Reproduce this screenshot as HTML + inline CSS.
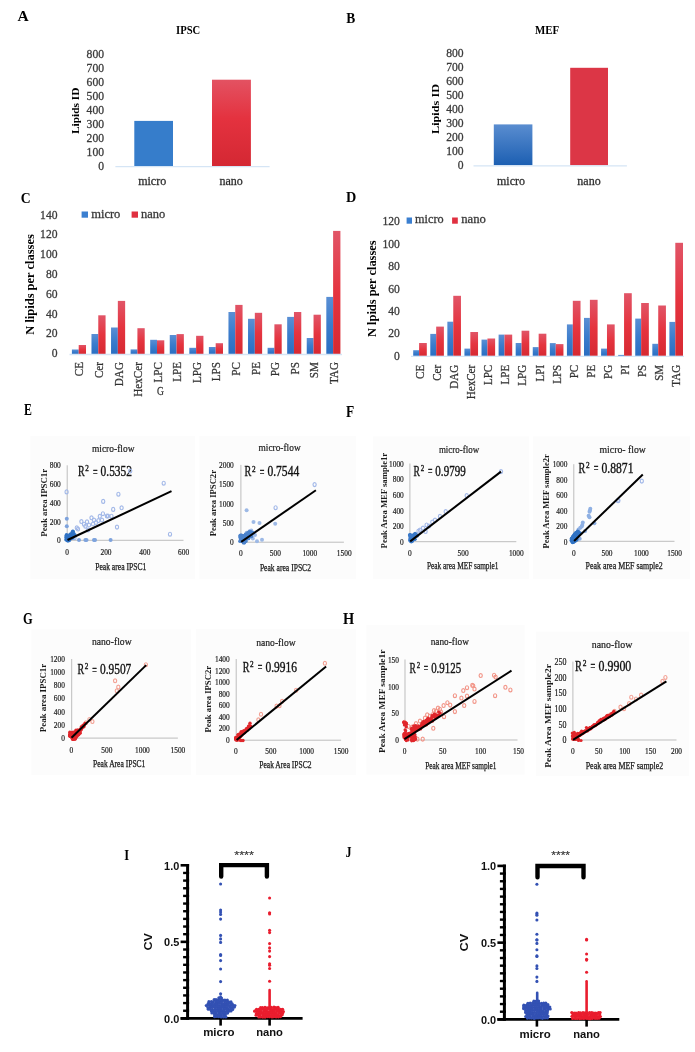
<!DOCTYPE html>
<html><head><meta charset="utf-8"><title>Figure</title>
<style>
html,body{margin:0;padding:0;background:#fff;}
body{width:695px;height:1052px;overflow:hidden;}
svg{display:block;}
</style></head>
<body>
<svg width="695" height="1052" viewBox="0 0 695 1052">
<rect x="0" y="0" width="695" height="1052" fill="#fff"/>
<text x="17.40" y="20.70" font-size="15.5" font-weight="bold" font-family="'Liberation Serif', serif" fill="#000" textLength="11.20" lengthAdjust="spacingAndGlyphs">A</text>
<text x="346.30" y="22.50" font-size="15" font-weight="bold" font-family="'Liberation Serif', serif" fill="#000" textLength="9.00" lengthAdjust="spacingAndGlyphs">B</text>
<text x="20.70" y="202.90" font-size="15.5" font-weight="bold" font-family="'Liberation Serif', serif" fill="#000" textLength="9.90" lengthAdjust="spacingAndGlyphs">C</text>
<text x="346.00" y="202.30" font-size="15" font-weight="bold" font-family="'Liberation Serif', serif" fill="#000" textLength="10.30" lengthAdjust="spacingAndGlyphs">D</text>
<defs>
<linearGradient id="gRedA" x1="0" y1="0" x2="0" y2="1"><stop offset="0" stop-color="#e35262"/><stop offset="0.45" stop-color="#e4323f"/><stop offset="1" stop-color="#d42833"/></linearGradient>
<linearGradient id="gBlueB" x1="0" y1="0" x2="0" y2="1"><stop offset="0" stop-color="#5a8dd0"/><stop offset="1" stop-color="#1c5fb2"/></linearGradient>
<linearGradient id="gBlueC" x1="0" y1="0" x2="0" y2="1"><stop offset="0" stop-color="#5a8fd4"/><stop offset="0.5" stop-color="#3a7ccc"/><stop offset="1" stop-color="#2a6ec2"/></linearGradient>
<linearGradient id="gRedC" x1="0" y1="0" x2="0" y2="1"><stop offset="0" stop-color="#e15567"/><stop offset="0.5" stop-color="#e5343f"/><stop offset="1" stop-color="#d62932"/></linearGradient>
</defs>
<text x="176.10" y="33.80" font-size="11.5" font-weight="bold" font-family="'Liberation Serif', serif" fill="#000" textLength="24.20" lengthAdjust="spacingAndGlyphs">IPSC</text>
<text x="104.00" y="169.70" text-anchor="end" font-size="11.6" font-weight="normal" font-family="'Liberation Serif', serif" fill="#3a3a3a" stroke="#3a3a3a" stroke-width="0.28">0</text>
<text x="104.00" y="155.76" text-anchor="end" font-size="11.6" font-weight="normal" font-family="'Liberation Serif', serif" fill="#3a3a3a" stroke="#3a3a3a" stroke-width="0.28">100</text>
<text x="104.00" y="141.82" text-anchor="end" font-size="11.6" font-weight="normal" font-family="'Liberation Serif', serif" fill="#3a3a3a" stroke="#3a3a3a" stroke-width="0.28">200</text>
<text x="104.00" y="127.88" text-anchor="end" font-size="11.6" font-weight="normal" font-family="'Liberation Serif', serif" fill="#3a3a3a" stroke="#3a3a3a" stroke-width="0.28">300</text>
<text x="104.00" y="113.94" text-anchor="end" font-size="11.6" font-weight="normal" font-family="'Liberation Serif', serif" fill="#3a3a3a" stroke="#3a3a3a" stroke-width="0.28">400</text>
<text x="104.00" y="100.00" text-anchor="end" font-size="11.6" font-weight="normal" font-family="'Liberation Serif', serif" fill="#3a3a3a" stroke="#3a3a3a" stroke-width="0.28">500</text>
<text x="104.00" y="86.06" text-anchor="end" font-size="11.6" font-weight="normal" font-family="'Liberation Serif', serif" fill="#3a3a3a" stroke="#3a3a3a" stroke-width="0.28">600</text>
<text x="104.00" y="72.12" text-anchor="end" font-size="11.6" font-weight="normal" font-family="'Liberation Serif', serif" fill="#3a3a3a" stroke="#3a3a3a" stroke-width="0.28">700</text>
<text x="104.00" y="58.18" text-anchor="end" font-size="11.6" font-weight="normal" font-family="'Liberation Serif', serif" fill="#3a3a3a" stroke="#3a3a3a" stroke-width="0.28">800</text>
<text transform="translate(79.20,134.00) rotate(-90)" x="0" y="0" font-size="11.4" font-weight="bold" font-family="'Liberation Serif', serif" fill="#000" textLength="46.40" lengthAdjust="spacingAndGlyphs">Lipids ID</text>
<rect x="134.30" y="120.90" width="38.70" height="45.10" fill="#367dcb"/>
<rect x="212.00" y="79.70" width="38.90" height="86.30" fill="url(#gRedA)"/>
<line x1="115.40" y1="166.60" x2="269.60" y2="166.60" stroke="#d5e5f5" stroke-width="1.3" stroke-linecap="butt"/>
<text x="152.20" y="185.40" text-anchor="middle" font-size="12" font-weight="normal" font-family="'Liberation Serif', serif" fill="#262626" stroke="#3a3a3a" stroke-width="0.28">micro</text>
<text x="231.20" y="185.40" text-anchor="middle" font-size="12" font-weight="normal" font-family="'Liberation Serif', serif" fill="#262626" stroke="#3a3a3a" stroke-width="0.28">nano</text>
<text x="535.00" y="33.80" font-size="11.5" font-weight="bold" font-family="'Liberation Serif', serif" fill="#000" textLength="24.20" lengthAdjust="spacingAndGlyphs">MEF</text>
<text x="463.60" y="168.90" text-anchor="end" font-size="11.6" font-weight="normal" font-family="'Liberation Serif', serif" fill="#3a3a3a" stroke="#3a3a3a" stroke-width="0.28">0</text>
<text x="463.60" y="154.91" text-anchor="end" font-size="11.6" font-weight="normal" font-family="'Liberation Serif', serif" fill="#3a3a3a" stroke="#3a3a3a" stroke-width="0.28">100</text>
<text x="463.60" y="140.92" text-anchor="end" font-size="11.6" font-weight="normal" font-family="'Liberation Serif', serif" fill="#3a3a3a" stroke="#3a3a3a" stroke-width="0.28">200</text>
<text x="463.60" y="126.93" text-anchor="end" font-size="11.6" font-weight="normal" font-family="'Liberation Serif', serif" fill="#3a3a3a" stroke="#3a3a3a" stroke-width="0.28">300</text>
<text x="463.60" y="112.94" text-anchor="end" font-size="11.6" font-weight="normal" font-family="'Liberation Serif', serif" fill="#3a3a3a" stroke="#3a3a3a" stroke-width="0.28">400</text>
<text x="463.60" y="98.95" text-anchor="end" font-size="11.6" font-weight="normal" font-family="'Liberation Serif', serif" fill="#3a3a3a" stroke="#3a3a3a" stroke-width="0.28">500</text>
<text x="463.60" y="84.96" text-anchor="end" font-size="11.6" font-weight="normal" font-family="'Liberation Serif', serif" fill="#3a3a3a" stroke="#3a3a3a" stroke-width="0.28">600</text>
<text x="463.60" y="70.97" text-anchor="end" font-size="11.6" font-weight="normal" font-family="'Liberation Serif', serif" fill="#3a3a3a" stroke="#3a3a3a" stroke-width="0.28">700</text>
<text x="463.60" y="56.98" text-anchor="end" font-size="11.6" font-weight="normal" font-family="'Liberation Serif', serif" fill="#3a3a3a" stroke="#3a3a3a" stroke-width="0.28">800</text>
<text transform="translate(439.40,134.00) rotate(-90)" x="0" y="0" font-size="11.4" font-weight="bold" font-family="'Liberation Serif', serif" fill="#000" textLength="50.00" lengthAdjust="spacingAndGlyphs">Lipids ID</text>
<rect x="493.80" y="124.40" width="38.60" height="40.80" fill="url(#gBlueB)"/>
<rect x="570.20" y="67.80" width="37.80" height="97.40" fill="#dc3646"/>
<line x1="473.50" y1="165.80" x2="626.90" y2="165.80" stroke="#d5e5f5" stroke-width="1.3" stroke-linecap="butt"/>
<text x="511.00" y="185.00" text-anchor="middle" font-size="12" font-weight="normal" font-family="'Liberation Serif', serif" fill="#262626" stroke="#3a3a3a" stroke-width="0.28">micro</text>
<text x="589.00" y="185.00" text-anchor="middle" font-size="12" font-weight="normal" font-family="'Liberation Serif', serif" fill="#262626" stroke="#3a3a3a" stroke-width="0.28">nano</text>
<text x="57.50" y="357.20" text-anchor="end" font-size="11.6" font-weight="normal" font-family="'Liberation Serif', serif" fill="#3a3a3a" stroke="#3a3a3a" stroke-width="0.28">0</text>
<text x="57.50" y="337.40" text-anchor="end" font-size="11.6" font-weight="normal" font-family="'Liberation Serif', serif" fill="#3a3a3a" stroke="#3a3a3a" stroke-width="0.28">20</text>
<text x="57.50" y="317.60" text-anchor="end" font-size="11.6" font-weight="normal" font-family="'Liberation Serif', serif" fill="#3a3a3a" stroke="#3a3a3a" stroke-width="0.28">40</text>
<text x="57.50" y="297.80" text-anchor="end" font-size="11.6" font-weight="normal" font-family="'Liberation Serif', serif" fill="#3a3a3a" stroke="#3a3a3a" stroke-width="0.28">60</text>
<text x="57.50" y="278.00" text-anchor="end" font-size="11.6" font-weight="normal" font-family="'Liberation Serif', serif" fill="#3a3a3a" stroke="#3a3a3a" stroke-width="0.28">80</text>
<text x="57.50" y="258.20" text-anchor="end" font-size="11.6" font-weight="normal" font-family="'Liberation Serif', serif" fill="#3a3a3a" stroke="#3a3a3a" stroke-width="0.28">100</text>
<text x="57.50" y="238.40" text-anchor="end" font-size="11.6" font-weight="normal" font-family="'Liberation Serif', serif" fill="#3a3a3a" stroke="#3a3a3a" stroke-width="0.28">120</text>
<text x="57.50" y="218.60" text-anchor="end" font-size="11.6" font-weight="normal" font-family="'Liberation Serif', serif" fill="#3a3a3a" stroke="#3a3a3a" stroke-width="0.28">140</text>
<text transform="translate(33.60,334.70) rotate(-90)" x="0" y="0" font-size="12.2" font-weight="bold" font-family="'Liberation Serif', serif" fill="#000" textLength="100.50" lengthAdjust="spacingAndGlyphs">N lipids per classes</text>
<rect x="81.60" y="211.50" width="6.40" height="6.20" fill="#3b7fd0"/>
<text x="91.20" y="218.20" font-size="12" font-weight="normal" font-family="'Liberation Serif', serif" fill="#3a3a3a" textLength="29.20" lengthAdjust="spacingAndGlyphs" stroke="#3a3a3a" stroke-width="0.28">micro</text>
<rect x="131.60" y="211.50" width="6.40" height="6.20" fill="#e03040"/>
<text x="141.00" y="218.20" font-size="12" font-weight="normal" font-family="'Liberation Serif', serif" fill="#3a3a3a" textLength="24.20" lengthAdjust="spacingAndGlyphs" stroke="#3a3a3a" stroke-width="0.28">nano</text>
<rect x="71.90" y="349.50" width="6.80" height="4.50" fill="url(#gBlueC)"/>
<rect x="78.70" y="345.00" width="7.30" height="9.00" fill="url(#gRedC)"/>
<rect x="91.47" y="334.00" width="6.80" height="20.00" fill="url(#gBlueC)"/>
<rect x="98.27" y="315.30" width="7.30" height="38.70" fill="url(#gRedC)"/>
<rect x="111.04" y="327.50" width="6.80" height="26.50" fill="url(#gBlueC)"/>
<rect x="117.84" y="300.90" width="7.30" height="53.10" fill="url(#gRedC)"/>
<rect x="130.61" y="349.40" width="6.80" height="4.60" fill="url(#gBlueC)"/>
<rect x="137.41" y="328.20" width="7.30" height="25.80" fill="url(#gRedC)"/>
<rect x="150.18" y="339.80" width="6.80" height="14.20" fill="url(#gBlueC)"/>
<rect x="156.98" y="340.30" width="7.30" height="13.70" fill="url(#gRedC)"/>
<rect x="169.75" y="335.00" width="6.80" height="19.00" fill="url(#gBlueC)"/>
<rect x="176.55" y="334.10" width="7.30" height="19.90" fill="url(#gRedC)"/>
<rect x="189.32" y="347.80" width="6.80" height="6.20" fill="url(#gBlueC)"/>
<rect x="196.12" y="335.80" width="7.30" height="18.20" fill="url(#gRedC)"/>
<rect x="208.89" y="347.00" width="6.80" height="7.00" fill="url(#gBlueC)"/>
<rect x="215.69" y="343.20" width="7.30" height="10.80" fill="url(#gRedC)"/>
<rect x="228.46" y="312.00" width="6.80" height="42.00" fill="url(#gBlueC)"/>
<rect x="235.26" y="304.90" width="7.30" height="49.10" fill="url(#gRedC)"/>
<rect x="248.03" y="318.80" width="6.80" height="35.20" fill="url(#gBlueC)"/>
<rect x="254.83" y="312.80" width="7.30" height="41.20" fill="url(#gRedC)"/>
<rect x="267.60" y="347.80" width="6.80" height="6.20" fill="url(#gBlueC)"/>
<rect x="274.40" y="324.30" width="7.30" height="29.70" fill="url(#gRedC)"/>
<rect x="287.17" y="316.90" width="6.80" height="37.10" fill="url(#gBlueC)"/>
<rect x="293.97" y="312.00" width="7.30" height="42.00" fill="url(#gRedC)"/>
<rect x="306.74" y="338.00" width="6.80" height="16.00" fill="url(#gBlueC)"/>
<rect x="313.54" y="314.70" width="7.30" height="39.30" fill="url(#gRedC)"/>
<rect x="326.31" y="296.90" width="6.80" height="57.10" fill="url(#gBlueC)"/>
<rect x="333.11" y="230.90" width="7.30" height="123.10" fill="url(#gRedC)"/>
<line x1="69.50" y1="354.50" x2="342.00" y2="354.50" stroke="#d5e5f5" stroke-width="1.3" stroke-linecap="butt"/>
<text transform="translate(83.40,362.00) rotate(-90) scale(0.86,1)" x="0" y="0" text-anchor="end" font-size="13.0" font-weight="normal" font-family="'Liberation Serif', serif" fill="#303030" stroke="#3a3a3a" stroke-width="0.28">CE</text>
<text transform="translate(102.97,362.00) rotate(-90) scale(0.86,1)" x="0" y="0" text-anchor="end" font-size="13.0" font-weight="normal" font-family="'Liberation Serif', serif" fill="#303030" stroke="#3a3a3a" stroke-width="0.28">Cer</text>
<text transform="translate(122.54,362.00) rotate(-90) scale(0.86,1)" x="0" y="0" text-anchor="end" font-size="13.0" font-weight="normal" font-family="'Liberation Serif', serif" fill="#303030" stroke="#3a3a3a" stroke-width="0.28">DAG</text>
<text transform="translate(142.11,362.00) rotate(-90) scale(0.86,1)" x="0" y="0" text-anchor="end" font-size="13.0" font-weight="normal" font-family="'Liberation Serif', serif" fill="#303030" stroke="#3a3a3a" stroke-width="0.28">HexCer</text>
<text transform="translate(161.68,362.00) rotate(-90) scale(0.86,1)" x="0" y="0" text-anchor="end" font-size="13.0" font-weight="normal" font-family="'Liberation Serif', serif" fill="#303030" stroke="#3a3a3a" stroke-width="0.28">LPC</text>
<text transform="translate(181.25,362.00) rotate(-90) scale(0.86,1)" x="0" y="0" text-anchor="end" font-size="13.0" font-weight="normal" font-family="'Liberation Serif', serif" fill="#303030" stroke="#3a3a3a" stroke-width="0.28">LPE</text>
<text transform="translate(200.82,362.00) rotate(-90) scale(0.86,1)" x="0" y="0" text-anchor="end" font-size="13.0" font-weight="normal" font-family="'Liberation Serif', serif" fill="#303030" stroke="#3a3a3a" stroke-width="0.28">LPG</text>
<text transform="translate(220.39,362.00) rotate(-90) scale(0.86,1)" x="0" y="0" text-anchor="end" font-size="13.0" font-weight="normal" font-family="'Liberation Serif', serif" fill="#303030" stroke="#3a3a3a" stroke-width="0.28">LPS</text>
<text transform="translate(239.96,362.00) rotate(-90) scale(0.86,1)" x="0" y="0" text-anchor="end" font-size="13.0" font-weight="normal" font-family="'Liberation Serif', serif" fill="#303030" stroke="#3a3a3a" stroke-width="0.28">PC</text>
<text transform="translate(259.53,362.00) rotate(-90) scale(0.86,1)" x="0" y="0" text-anchor="end" font-size="13.0" font-weight="normal" font-family="'Liberation Serif', serif" fill="#303030" stroke="#3a3a3a" stroke-width="0.28">PE</text>
<text transform="translate(279.10,362.00) rotate(-90) scale(0.86,1)" x="0" y="0" text-anchor="end" font-size="13.0" font-weight="normal" font-family="'Liberation Serif', serif" fill="#303030" stroke="#3a3a3a" stroke-width="0.28">PG</text>
<text transform="translate(298.67,362.00) rotate(-90) scale(0.86,1)" x="0" y="0" text-anchor="end" font-size="13.0" font-weight="normal" font-family="'Liberation Serif', serif" fill="#303030" stroke="#3a3a3a" stroke-width="0.28">PS</text>
<text transform="translate(318.24,362.00) rotate(-90) scale(0.86,1)" x="0" y="0" text-anchor="end" font-size="13.0" font-weight="normal" font-family="'Liberation Serif', serif" fill="#303030" stroke="#3a3a3a" stroke-width="0.28">SM</text>
<text transform="translate(337.81,362.00) rotate(-90) scale(0.86,1)" x="0" y="0" text-anchor="end" font-size="13.0" font-weight="normal" font-family="'Liberation Serif', serif" fill="#303030" stroke="#3a3a3a" stroke-width="0.28">TAG</text>
<text x="157.00" y="394.60" font-size="13" font-weight="normal" font-family="'Liberation Serif', serif" fill="#303030" textLength="6.90" lengthAdjust="spacingAndGlyphs" stroke="#3a3a3a" stroke-width="0.28">G</text>
<text x="399.80" y="359.90" text-anchor="end" font-size="11.6" font-weight="normal" font-family="'Liberation Serif', serif" fill="#3a3a3a" stroke="#3a3a3a" stroke-width="0.28">0</text>
<text x="399.80" y="337.44" text-anchor="end" font-size="11.6" font-weight="normal" font-family="'Liberation Serif', serif" fill="#3a3a3a" stroke="#3a3a3a" stroke-width="0.28">20</text>
<text x="399.80" y="314.98" text-anchor="end" font-size="11.6" font-weight="normal" font-family="'Liberation Serif', serif" fill="#3a3a3a" stroke="#3a3a3a" stroke-width="0.28">40</text>
<text x="399.80" y="292.52" text-anchor="end" font-size="11.6" font-weight="normal" font-family="'Liberation Serif', serif" fill="#3a3a3a" stroke="#3a3a3a" stroke-width="0.28">60</text>
<text x="399.80" y="270.06" text-anchor="end" font-size="11.6" font-weight="normal" font-family="'Liberation Serif', serif" fill="#3a3a3a" stroke="#3a3a3a" stroke-width="0.28">80</text>
<text x="399.80" y="247.60" text-anchor="end" font-size="11.6" font-weight="normal" font-family="'Liberation Serif', serif" fill="#3a3a3a" stroke="#3a3a3a" stroke-width="0.28">100</text>
<text x="399.80" y="225.14" text-anchor="end" font-size="11.6" font-weight="normal" font-family="'Liberation Serif', serif" fill="#3a3a3a" stroke="#3a3a3a" stroke-width="0.28">120</text>
<text transform="translate(375.50,337.00) rotate(-90)" x="0" y="0" font-size="12.2" font-weight="bold" font-family="'Liberation Serif', serif" fill="#000" textLength="96.60" lengthAdjust="spacingAndGlyphs">N lpids per classes</text>
<rect x="406.60" y="217.50" width="5.40" height="6.20" fill="#3b7fd0"/>
<text x="415.10" y="222.90" font-size="12" font-weight="normal" font-family="'Liberation Serif', serif" fill="#3a3a3a" textLength="28.50" lengthAdjust="spacingAndGlyphs" stroke="#3a3a3a" stroke-width="0.28">micro</text>
<rect x="452.10" y="217.50" width="5.70" height="6.20" fill="#e03040"/>
<text x="461.20" y="222.90" font-size="12" font-weight="normal" font-family="'Liberation Serif', serif" fill="#3a3a3a" textLength="24.60" lengthAdjust="spacingAndGlyphs" stroke="#3a3a3a" stroke-width="0.28">nano</text>
<rect x="413.20" y="350.20" width="5.90" height="5.70" fill="url(#gBlueC)"/>
<rect x="419.10" y="343.00" width="7.70" height="12.90" fill="url(#gRedC)"/>
<rect x="430.28" y="333.90" width="5.90" height="22.00" fill="url(#gBlueC)"/>
<rect x="436.18" y="326.60" width="7.70" height="29.30" fill="url(#gRedC)"/>
<rect x="447.36" y="321.70" width="5.90" height="34.20" fill="url(#gBlueC)"/>
<rect x="453.26" y="295.80" width="7.70" height="60.10" fill="url(#gRedC)"/>
<rect x="464.44" y="348.60" width="5.90" height="7.30" fill="url(#gBlueC)"/>
<rect x="470.34" y="332.00" width="7.70" height="23.90" fill="url(#gRedC)"/>
<rect x="481.52" y="339.60" width="5.90" height="16.30" fill="url(#gBlueC)"/>
<rect x="487.42" y="338.50" width="7.70" height="17.40" fill="url(#gRedC)"/>
<rect x="498.60" y="334.60" width="5.90" height="21.30" fill="url(#gBlueC)"/>
<rect x="504.50" y="334.60" width="7.70" height="21.30" fill="url(#gRedC)"/>
<rect x="515.68" y="343.00" width="5.90" height="12.90" fill="url(#gBlueC)"/>
<rect x="521.58" y="330.70" width="7.70" height="25.20" fill="url(#gRedC)"/>
<rect x="532.76" y="347.10" width="5.90" height="8.80" fill="url(#gBlueC)"/>
<rect x="538.66" y="333.70" width="7.70" height="22.20" fill="url(#gRedC)"/>
<rect x="549.84" y="343.10" width="5.90" height="12.80" fill="url(#gBlueC)"/>
<rect x="555.74" y="344.10" width="7.70" height="11.80" fill="url(#gRedC)"/>
<rect x="566.92" y="324.40" width="5.90" height="31.50" fill="url(#gBlueC)"/>
<rect x="572.82" y="300.80" width="7.70" height="55.10" fill="url(#gRedC)"/>
<rect x="584.00" y="317.90" width="5.90" height="38.00" fill="url(#gBlueC)"/>
<rect x="589.90" y="299.80" width="7.70" height="56.10" fill="url(#gRedC)"/>
<rect x="601.08" y="348.60" width="5.90" height="7.30" fill="url(#gBlueC)"/>
<rect x="606.98" y="324.40" width="7.70" height="31.50" fill="url(#gRedC)"/>
<rect x="618.16" y="354.90" width="5.90" height="1.00" fill="url(#gBlueC)"/>
<rect x="624.06" y="293.20" width="7.70" height="62.70" fill="url(#gRedC)"/>
<rect x="635.24" y="318.60" width="5.90" height="37.30" fill="url(#gBlueC)"/>
<rect x="641.14" y="303.00" width="7.70" height="52.90" fill="url(#gRedC)"/>
<rect x="652.32" y="343.80" width="5.90" height="12.10" fill="url(#gBlueC)"/>
<rect x="658.22" y="305.50" width="7.70" height="50.40" fill="url(#gRedC)"/>
<rect x="669.40" y="321.90" width="5.90" height="34.00" fill="url(#gBlueC)"/>
<rect x="675.30" y="242.80" width="7.70" height="113.10" fill="url(#gRedC)"/>
<line x1="411.00" y1="356.40" x2="684.00" y2="356.40" stroke="#d5e5f5" stroke-width="1.3" stroke-linecap="butt"/>
<text transform="translate(423.97,364.80) rotate(-90) scale(0.9,1)" x="0" y="0" text-anchor="end" font-size="12.3" font-weight="normal" font-family="'Liberation Serif', serif" fill="#303030" stroke="#3a3a3a" stroke-width="0.28">CE</text>
<text transform="translate(441.05,364.80) rotate(-90) scale(0.9,1)" x="0" y="0" text-anchor="end" font-size="12.3" font-weight="normal" font-family="'Liberation Serif', serif" fill="#303030" stroke="#3a3a3a" stroke-width="0.28">Cer</text>
<text transform="translate(458.13,364.80) rotate(-90) scale(0.9,1)" x="0" y="0" text-anchor="end" font-size="12.3" font-weight="normal" font-family="'Liberation Serif', serif" fill="#303030" stroke="#3a3a3a" stroke-width="0.28">DAG</text>
<text transform="translate(475.21,364.80) rotate(-90) scale(0.9,1)" x="0" y="0" text-anchor="end" font-size="12.3" font-weight="normal" font-family="'Liberation Serif', serif" fill="#303030" stroke="#3a3a3a" stroke-width="0.28">HexCer</text>
<text transform="translate(492.29,364.80) rotate(-90) scale(0.9,1)" x="0" y="0" text-anchor="end" font-size="12.3" font-weight="normal" font-family="'Liberation Serif', serif" fill="#303030" stroke="#3a3a3a" stroke-width="0.28">LPC</text>
<text transform="translate(509.37,364.80) rotate(-90) scale(0.9,1)" x="0" y="0" text-anchor="end" font-size="12.3" font-weight="normal" font-family="'Liberation Serif', serif" fill="#303030" stroke="#3a3a3a" stroke-width="0.28">LPE</text>
<text transform="translate(526.45,364.80) rotate(-90) scale(0.9,1)" x="0" y="0" text-anchor="end" font-size="12.3" font-weight="normal" font-family="'Liberation Serif', serif" fill="#303030" stroke="#3a3a3a" stroke-width="0.28">LPG</text>
<text transform="translate(543.53,364.80) rotate(-90) scale(0.9,1)" x="0" y="0" text-anchor="end" font-size="12.3" font-weight="normal" font-family="'Liberation Serif', serif" fill="#303030" stroke="#3a3a3a" stroke-width="0.28">LPI</text>
<text transform="translate(560.61,364.80) rotate(-90) scale(0.9,1)" x="0" y="0" text-anchor="end" font-size="12.3" font-weight="normal" font-family="'Liberation Serif', serif" fill="#303030" stroke="#3a3a3a" stroke-width="0.28">LPS</text>
<text transform="translate(577.69,364.80) rotate(-90) scale(0.9,1)" x="0" y="0" text-anchor="end" font-size="12.3" font-weight="normal" font-family="'Liberation Serif', serif" fill="#303030" stroke="#3a3a3a" stroke-width="0.28">PC</text>
<text transform="translate(594.77,364.80) rotate(-90) scale(0.9,1)" x="0" y="0" text-anchor="end" font-size="12.3" font-weight="normal" font-family="'Liberation Serif', serif" fill="#303030" stroke="#3a3a3a" stroke-width="0.28">PE</text>
<text transform="translate(611.85,364.80) rotate(-90) scale(0.9,1)" x="0" y="0" text-anchor="end" font-size="12.3" font-weight="normal" font-family="'Liberation Serif', serif" fill="#303030" stroke="#3a3a3a" stroke-width="0.28">PG</text>
<text transform="translate(628.93,364.80) rotate(-90) scale(0.9,1)" x="0" y="0" text-anchor="end" font-size="12.3" font-weight="normal" font-family="'Liberation Serif', serif" fill="#303030" stroke="#3a3a3a" stroke-width="0.28">PI</text>
<text transform="translate(646.01,364.80) rotate(-90) scale(0.9,1)" x="0" y="0" text-anchor="end" font-size="12.3" font-weight="normal" font-family="'Liberation Serif', serif" fill="#303030" stroke="#3a3a3a" stroke-width="0.28">PS</text>
<text transform="translate(663.09,364.80) rotate(-90) scale(0.9,1)" x="0" y="0" text-anchor="end" font-size="12.3" font-weight="normal" font-family="'Liberation Serif', serif" fill="#303030" stroke="#3a3a3a" stroke-width="0.28">SM</text>
<text transform="translate(680.17,364.80) rotate(-90) scale(0.9,1)" x="0" y="0" text-anchor="end" font-size="12.3" font-weight="normal" font-family="'Liberation Serif', serif" fill="#303030" stroke="#3a3a3a" stroke-width="0.28">TAG</text>
<text x="24.10" y="414.60" font-size="16" font-weight="bold" font-family="'Liberation Serif', serif" fill="#000" textLength="7.90" lengthAdjust="spacingAndGlyphs">E</text>
<text x="346.00" y="416.80" font-size="16.5" font-weight="bold" font-family="'Liberation Serif', serif" fill="#000" textLength="8.20" lengthAdjust="spacingAndGlyphs">F</text>
<text x="23.00" y="623.60" font-size="16.5" font-weight="bold" font-family="'Liberation Serif', serif" fill="#000" textLength="9.70" lengthAdjust="spacingAndGlyphs">G</text>
<text x="343.00" y="624.00" font-size="16.5" font-weight="bold" font-family="'Liberation Serif', serif" fill="#000" textLength="11.20" lengthAdjust="spacingAndGlyphs">H</text>
<rect x="30.5" y="435.8" width="164.5" height="143.2" fill="#fcfcfc"/>
<line x1="67.20" y1="465.30" x2="67.20" y2="540.30" stroke="#bdbdbd" stroke-width="1.0" stroke-linecap="butt"/>
<line x1="67.20" y1="540.30" x2="183.50" y2="540.30" stroke="#bdbdbd" stroke-width="1.0" stroke-linecap="butt"/>
<text transform="translate(60.80,543.29) scale(0.84,1)" x="0" y="0" text-anchor="end" font-size="8.8" font-weight="normal" font-family="'Liberation Serif', serif" fill="#1a1a1a" stroke="#1a1a1a" stroke-width="0.2">0</text>
<text transform="translate(60.80,524.54) scale(0.84,1)" x="0" y="0" text-anchor="end" font-size="8.8" font-weight="normal" font-family="'Liberation Serif', serif" fill="#1a1a1a" stroke="#1a1a1a" stroke-width="0.2">200</text>
<text transform="translate(60.80,505.79) scale(0.84,1)" x="0" y="0" text-anchor="end" font-size="8.8" font-weight="normal" font-family="'Liberation Serif', serif" fill="#1a1a1a" stroke="#1a1a1a" stroke-width="0.2">400</text>
<text transform="translate(60.80,487.04) scale(0.84,1)" x="0" y="0" text-anchor="end" font-size="8.8" font-weight="normal" font-family="'Liberation Serif', serif" fill="#1a1a1a" stroke="#1a1a1a" stroke-width="0.2">600</text>
<text transform="translate(60.80,468.29) scale(0.84,1)" x="0" y="0" text-anchor="end" font-size="8.8" font-weight="normal" font-family="'Liberation Serif', serif" fill="#1a1a1a" stroke="#1a1a1a" stroke-width="0.2">800</text>
<text transform="translate(67.20,555.00) scale(0.84,1)" x="0" y="0" text-anchor="middle" font-size="8.8" font-weight="normal" font-family="'Liberation Serif', serif" fill="#1a1a1a" stroke="#1a1a1a" stroke-width="0.2">0</text>
<text transform="translate(106.00,555.00) scale(0.84,1)" x="0" y="0" text-anchor="middle" font-size="8.8" font-weight="normal" font-family="'Liberation Serif', serif" fill="#1a1a1a" stroke="#1a1a1a" stroke-width="0.2">200</text>
<text transform="translate(144.80,555.00) scale(0.84,1)" x="0" y="0" text-anchor="middle" font-size="8.8" font-weight="normal" font-family="'Liberation Serif', serif" fill="#1a1a1a" stroke="#1a1a1a" stroke-width="0.2">400</text>
<text transform="translate(183.60,555.00) scale(0.84,1)" x="0" y="0" text-anchor="middle" font-size="8.8" font-weight="normal" font-family="'Liberation Serif', serif" fill="#1a1a1a" stroke="#1a1a1a" stroke-width="0.2">600</text>
<text x="91.90" y="451.90" font-size="10.6" font-weight="normal" font-family="'Liberation Serif', serif" fill="#1a1a1a" textLength="42.60" lengthAdjust="spacingAndGlyphs" stroke="#1a1a1a" stroke-width="0.2">micro-flow</text>
<text x="78.00" y="476.30" font-size="13.6" font-weight="normal" font-family="'Liberation Serif', serif" fill="#111" textLength="6.68" lengthAdjust="spacingAndGlyphs" stroke="#111" stroke-width="0.35">R</text>
<text x="85.37" y="471.40" font-size="7.8" font-weight="normal" font-family="'Liberation Serif', serif" fill="#111" textLength="3.59" lengthAdjust="spacingAndGlyphs" stroke="#111" stroke-width="0.35">2</text>
<text x="92.94" y="476.50" font-size="13.6" font-weight="normal" font-family="'Liberation Serif', serif" fill="#111" textLength="4.58" lengthAdjust="spacingAndGlyphs" stroke="#111" stroke-width="0.35">=</text>
<text x="100.62" y="476.30" font-size="13.6" font-weight="normal" font-family="'Liberation Serif', serif" fill="#111" textLength="31.38" lengthAdjust="spacingAndGlyphs" stroke="#111" stroke-width="0.35">0.5352</text>
<text transform="translate(46.60,536.70) rotate(-90)" x="0" y="0" font-size="8.8" font-weight="bold" font-family="'Liberation Serif', serif" fill="#1a1a1a" textLength="67.90" lengthAdjust="spacingAndGlyphs">Peak area IPSC1r</text>
<text x="95.20" y="570.00" font-size="9.3" font-weight="normal" font-family="'Liberation Serif', serif" fill="#1a1a1a" textLength="51.10" lengthAdjust="spacingAndGlyphs" stroke="#1a1a1a" stroke-width="0.25">Peak area IPSC1</text>
<ellipse cx="163.7" cy="483.2" rx="1.6" ry="1.95" fill="none" stroke="#a2b8e8" stroke-width="1.15"/>
<ellipse cx="118.4" cy="494.2" rx="1.6" ry="1.95" fill="none" stroke="#a2b8e8" stroke-width="1.15"/>
<ellipse cx="103.2" cy="501.4" rx="1.6" ry="1.95" fill="none" stroke="#a2b8e8" stroke-width="1.15"/>
<ellipse cx="113.2" cy="509.4" rx="1.6" ry="1.95" fill="none" stroke="#a2b8e8" stroke-width="1.15"/>
<ellipse cx="121.6" cy="507.8" rx="1.6" ry="1.95" fill="none" stroke="#a2b8e8" stroke-width="1.15"/>
<ellipse cx="106.9" cy="515.9" rx="1.6" ry="1.95" fill="none" stroke="#a2b8e8" stroke-width="1.15"/>
<ellipse cx="111.5" cy="516.2" rx="1.6" ry="1.95" fill="none" stroke="#a2b8e8" stroke-width="1.15"/>
<ellipse cx="102.9" cy="513.7" rx="1.6" ry="1.95" fill="none" stroke="#a2b8e8" stroke-width="1.15"/>
<ellipse cx="117.0" cy="527.1" rx="1.6" ry="1.95" fill="none" stroke="#a2b8e8" stroke-width="1.15"/>
<ellipse cx="170.0" cy="534.2" rx="1.6" ry="1.95" fill="none" stroke="#a2b8e8" stroke-width="1.15"/>
<ellipse cx="130.2" cy="471.0" rx="1.6" ry="1.95" fill="none" stroke="#a2b8e8" stroke-width="1.15"/>
<ellipse cx="66.6" cy="491.9" rx="1.6" ry="1.95" fill="none" stroke="#a2b8e8" stroke-width="1.15"/>
<ellipse cx="99.8" cy="516.3" rx="1.6" ry="1.95" fill="none" stroke="#a2b8e8" stroke-width="1.15"/>
<ellipse cx="91.5" cy="517.8" rx="1.6" ry="1.95" fill="none" stroke="#a2b8e8" stroke-width="1.15"/>
<ellipse cx="94.0" cy="520.0" rx="1.6" ry="1.95" fill="none" stroke="#a2b8e8" stroke-width="1.15"/>
<ellipse cx="98.4" cy="520.6" rx="1.6" ry="1.95" fill="none" stroke="#a2b8e8" stroke-width="1.15"/>
<ellipse cx="81.4" cy="521.5" rx="1.6" ry="1.95" fill="none" stroke="#a2b8e8" stroke-width="1.15"/>
<ellipse cx="84.0" cy="524.2" rx="1.6" ry="1.95" fill="none" stroke="#a2b8e8" stroke-width="1.15"/>
<ellipse cx="89.0" cy="525.0" rx="1.6" ry="1.95" fill="none" stroke="#a2b8e8" stroke-width="1.15"/>
<ellipse cx="76.8" cy="527.8" rx="1.6" ry="1.95" fill="none" stroke="#a2b8e8" stroke-width="1.15"/>
<ellipse cx="85.4" cy="526.2" rx="1.6" ry="1.95" fill="none" stroke="#a2b8e8" stroke-width="1.15"/>
<ellipse cx="74.6" cy="537.7" rx="1.6" ry="1.95" fill="none" stroke="#a2b8e8" stroke-width="1.15"/>
<ellipse cx="72.0" cy="533.0" rx="1.6" ry="1.95" fill="none" stroke="#a2b8e8" stroke-width="1.15"/>
<ellipse cx="78.0" cy="529.0" rx="1.6" ry="1.95" fill="none" stroke="#a2b8e8" stroke-width="1.15"/>
<ellipse cx="88.0" cy="530.0" rx="1.6" ry="1.95" fill="none" stroke="#a2b8e8" stroke-width="1.15"/>
<ellipse cx="93.0" cy="524.0" rx="1.6" ry="1.95" fill="none" stroke="#a2b8e8" stroke-width="1.15"/>
<ellipse cx="87.0" cy="521.8" rx="1.6" ry="1.95" fill="none" stroke="#a2b8e8" stroke-width="1.15"/>
<ellipse cx="96.0" cy="522.5" rx="1.6" ry="1.95" fill="none" stroke="#a2b8e8" stroke-width="1.15"/>
<ellipse cx="102.0" cy="520.0" rx="1.6" ry="1.95" fill="none" stroke="#a2b8e8" stroke-width="1.15"/>
<ellipse cx="108.0" cy="516.0" rx="1.6" ry="1.95" fill="none" stroke="#a2b8e8" stroke-width="1.15"/>
<circle cx="66.8" cy="518.8" r="2.0" fill="#7ea3dd"/>
<circle cx="66.8" cy="526.3" r="2.0" fill="#7ea3dd"/>
<circle cx="79.0" cy="539.9" r="2.0" fill="#7ea3dd"/>
<circle cx="85.4" cy="539.9" r="2.0" fill="#7ea3dd"/>
<circle cx="86.5" cy="539.9" r="2.0" fill="#7ea3dd"/>
<circle cx="94.0" cy="539.9" r="2.0" fill="#7ea3dd"/>
<circle cx="95.0" cy="539.9" r="2.0" fill="#7ea3dd"/>
<circle cx="110.6" cy="539.9" r="2.0" fill="#7ea3dd"/>
<circle cx="72.5" cy="538.0" r="2.0" fill="#7ea3dd"/>
<circle cx="74.0" cy="534.0" r="2.0" fill="#7ea3dd"/>
<circle cx="68.7" cy="536.8" r="1.8" fill="#2f72c4"/>
<circle cx="70.7" cy="534.0" r="1.8" fill="#2f72c4"/>
<circle cx="70.9" cy="535.7" r="1.8" fill="#2f72c4"/>
<circle cx="68.0" cy="539.9" r="1.8" fill="#2f72c4"/>
<circle cx="67.6" cy="539.8" r="1.8" fill="#2f72c4"/>
<circle cx="66.7" cy="538.6" r="1.8" fill="#2f72c4"/>
<circle cx="71.6" cy="537.9" r="1.8" fill="#2f72c4"/>
<circle cx="67.5" cy="538.5" r="1.8" fill="#2f72c4"/>
<circle cx="73.4" cy="536.7" r="1.8" fill="#2f72c4"/>
<circle cx="71.2" cy="535.5" r="1.8" fill="#2f72c4"/>
<circle cx="72.8" cy="531.4" r="1.8" fill="#2f72c4"/>
<circle cx="72.8" cy="533.0" r="1.8" fill="#2f72c4"/>
<circle cx="67.3" cy="538.1" r="1.8" fill="#2f72c4"/>
<circle cx="70.8" cy="538.8" r="1.8" fill="#2f72c4"/>
<circle cx="69.1" cy="539.1" r="1.8" fill="#2f72c4"/>
<circle cx="71.6" cy="534.9" r="1.8" fill="#2f72c4"/>
<circle cx="69.9" cy="534.8" r="1.8" fill="#2f72c4"/>
<circle cx="67.0" cy="539.0" r="1.8" fill="#2f72c4"/>
<circle cx="72.1" cy="534.8" r="1.8" fill="#2f72c4"/>
<circle cx="70.0" cy="538.1" r="1.8" fill="#2f72c4"/>
<circle cx="70.1" cy="536.2" r="1.8" fill="#2f72c4"/>
<circle cx="73.7" cy="534.7" r="1.8" fill="#2f72c4"/>
<circle cx="69.5" cy="538.6" r="1.8" fill="#2f72c4"/>
<circle cx="72.5" cy="537.3" r="1.8" fill="#2f72c4"/>
<circle cx="71.9" cy="534.0" r="1.8" fill="#2f72c4"/>
<circle cx="73.1" cy="531.5" r="1.8" fill="#2f72c4"/>
<circle cx="71.3" cy="537.8" r="1.8" fill="#2f72c4"/>
<circle cx="68.6" cy="539.1" r="1.8" fill="#2f72c4"/>
<circle cx="68.4" cy="540.5" r="1.8" fill="#2f72c4"/>
<circle cx="73.1" cy="534.5" r="1.8" fill="#2f72c4"/>
<circle cx="73.0" cy="532.9" r="1.8" fill="#2f72c4"/>
<circle cx="72.7" cy="535.2" r="1.8" fill="#2f72c4"/>
<circle cx="71.5" cy="535.6" r="1.8" fill="#2f72c4"/>
<circle cx="74.9" cy="535.0" r="1.8" fill="#2f72c4"/>
<circle cx="71.4" cy="537.1" r="1.8" fill="#2f72c4"/>
<circle cx="68.7" cy="540.4" r="1.8" fill="#2f72c4"/>
<circle cx="73.7" cy="536.7" r="1.8" fill="#2f72c4"/>
<circle cx="72.6" cy="533.3" r="1.8" fill="#2f72c4"/>
<circle cx="70.8" cy="537.8" r="1.8" fill="#2f72c4"/>
<circle cx="67.6" cy="540.0" r="1.8" fill="#2f72c4"/>
<circle cx="66.5" cy="534.9" r="1.8" fill="#2f72c4"/>
<circle cx="66.0" cy="539.8" r="1.8" fill="#2f72c4"/>
<circle cx="66.3" cy="535.9" r="1.8" fill="#2f72c4"/>
<circle cx="67.4" cy="540.5" r="1.8" fill="#2f72c4"/>
<circle cx="66.1" cy="537.4" r="1.8" fill="#2f72c4"/>
<circle cx="68.1" cy="540.6" r="1.8" fill="#2f72c4"/>
<circle cx="69.2" cy="540.5" r="1.8" fill="#2f72c4"/>
<circle cx="67.0" cy="537.1" r="1.8" fill="#2f72c4"/>
<circle cx="67.3" cy="540.6" r="1.8" fill="#2f72c4"/>
<circle cx="69.8" cy="535.1" r="1.8" fill="#2f72c4"/>
<circle cx="66.5" cy="535.7" r="1.8" fill="#2f72c4"/>
<circle cx="66.8" cy="537.6" r="1.8" fill="#2f72c4"/>
<line x1="67.50" y1="540.00" x2="171.50" y2="491.20" stroke="#000" stroke-width="2.0" stroke-linecap="butt"/>
<rect x="199.5" y="435.8" width="156.5" height="143.2" fill="#fcfcfc"/>
<line x1="240.90" y1="464.90" x2="240.90" y2="542.20" stroke="#bdbdbd" stroke-width="1.0" stroke-linecap="butt"/>
<line x1="240.90" y1="542.20" x2="343.90" y2="542.20" stroke="#bdbdbd" stroke-width="1.0" stroke-linecap="butt"/>
<text transform="translate(233.80,545.39) scale(0.84,1)" x="0" y="0" text-anchor="end" font-size="8.8" font-weight="normal" font-family="'Liberation Serif', serif" fill="#1a1a1a" stroke="#1a1a1a" stroke-width="0.2">0</text>
<text transform="translate(233.80,526.02) scale(0.84,1)" x="0" y="0" text-anchor="end" font-size="8.8" font-weight="normal" font-family="'Liberation Serif', serif" fill="#1a1a1a" stroke="#1a1a1a" stroke-width="0.2">500</text>
<text transform="translate(233.80,506.64) scale(0.84,1)" x="0" y="0" text-anchor="end" font-size="8.8" font-weight="normal" font-family="'Liberation Serif', serif" fill="#1a1a1a" stroke="#1a1a1a" stroke-width="0.2">1000</text>
<text transform="translate(233.80,487.27) scale(0.84,1)" x="0" y="0" text-anchor="end" font-size="8.8" font-weight="normal" font-family="'Liberation Serif', serif" fill="#1a1a1a" stroke="#1a1a1a" stroke-width="0.2">1500</text>
<text transform="translate(233.80,467.89) scale(0.84,1)" x="0" y="0" text-anchor="end" font-size="8.8" font-weight="normal" font-family="'Liberation Serif', serif" fill="#1a1a1a" stroke="#1a1a1a" stroke-width="0.2">2000</text>
<text transform="translate(240.90,556.40) scale(0.84,1)" x="0" y="0" text-anchor="middle" font-size="8.8" font-weight="normal" font-family="'Liberation Serif', serif" fill="#1a1a1a" stroke="#1a1a1a" stroke-width="0.2">0</text>
<text transform="translate(275.35,556.40) scale(0.84,1)" x="0" y="0" text-anchor="middle" font-size="8.8" font-weight="normal" font-family="'Liberation Serif', serif" fill="#1a1a1a" stroke="#1a1a1a" stroke-width="0.2">500</text>
<text transform="translate(309.80,556.40) scale(0.84,1)" x="0" y="0" text-anchor="middle" font-size="8.8" font-weight="normal" font-family="'Liberation Serif', serif" fill="#1a1a1a" stroke="#1a1a1a" stroke-width="0.2">1000</text>
<text transform="translate(344.25,556.40) scale(0.84,1)" x="0" y="0" text-anchor="middle" font-size="8.8" font-weight="normal" font-family="'Liberation Serif', serif" fill="#1a1a1a" stroke="#1a1a1a" stroke-width="0.2">1500</text>
<text x="258.50" y="451.40" font-size="10.6" font-weight="normal" font-family="'Liberation Serif', serif" fill="#1a1a1a" textLength="42.20" lengthAdjust="spacingAndGlyphs" stroke="#1a1a1a" stroke-width="0.2">micro-flow</text>
<text x="244.50" y="476.40" font-size="13.6" font-weight="normal" font-family="'Liberation Serif', serif" fill="#111" textLength="6.76" lengthAdjust="spacingAndGlyphs" stroke="#111" stroke-width="0.35">R</text>
<text x="251.97" y="471.50" font-size="7.8" font-weight="normal" font-family="'Liberation Serif', serif" fill="#111" textLength="3.63" lengthAdjust="spacingAndGlyphs" stroke="#111" stroke-width="0.35">2</text>
<text x="259.64" y="476.60" font-size="13.6" font-weight="normal" font-family="'Liberation Serif', serif" fill="#111" textLength="4.64" lengthAdjust="spacingAndGlyphs" stroke="#111" stroke-width="0.35">=</text>
<text x="267.41" y="476.40" font-size="13.6" font-weight="normal" font-family="'Liberation Serif', serif" fill="#111" textLength="31.79" lengthAdjust="spacingAndGlyphs" stroke="#111" stroke-width="0.35">0.7544</text>
<text transform="translate(216.30,536.30) rotate(-90)" x="0" y="0" font-size="8.8" font-weight="bold" font-family="'Liberation Serif', serif" fill="#1a1a1a" textLength="66.30" lengthAdjust="spacingAndGlyphs">Peak area IPSC2r</text>
<text x="259.90" y="571.00" font-size="9.3" font-weight="normal" font-family="'Liberation Serif', serif" fill="#1a1a1a" textLength="51.10" lengthAdjust="spacingAndGlyphs" stroke="#1a1a1a" stroke-width="0.25">Peak area IPSC2</text>
<ellipse cx="314.6" cy="484.6" rx="1.6" ry="1.95" fill="none" stroke="#a2b8e8" stroke-width="1.15"/>
<ellipse cx="275.6" cy="507.7" rx="1.6" ry="1.95" fill="none" stroke="#a2b8e8" stroke-width="1.15"/>
<circle cx="246.6" cy="510.2" r="2.0" fill="#9db9e6"/>
<circle cx="253.5" cy="522.0" r="2.0" fill="#9db9e6"/>
<circle cx="259.5" cy="523.0" r="2.0" fill="#9db9e6"/>
<circle cx="275.2" cy="523.7" r="2.0" fill="#9db9e6"/>
<circle cx="251.3" cy="530.6" r="2.0" fill="#9db9e6"/>
<circle cx="246.6" cy="532.7" r="2.0" fill="#9db9e6"/>
<circle cx="252.8" cy="538.4" r="2.0" fill="#9db9e6"/>
<circle cx="257.0" cy="541.3" r="2.0" fill="#9db9e6"/>
<circle cx="262.0" cy="539.8" r="2.0" fill="#9db9e6"/>
<circle cx="249.0" cy="534.0" r="2.0" fill="#9db9e6"/>
<circle cx="244.0" cy="536.0" r="2.0" fill="#9db9e6"/>
<circle cx="255.0" cy="535.0" r="2.0" fill="#9db9e6"/>
<circle cx="250.0" cy="531.0" r="2.0" fill="#9db9e6"/>
<circle cx="248.1" cy="536.1" r="1.9" fill="#4a82cc"/>
<circle cx="248.5" cy="538.4" r="1.9" fill="#4a82cc"/>
<circle cx="245.5" cy="535.1" r="1.9" fill="#4a82cc"/>
<circle cx="251.4" cy="536.3" r="1.9" fill="#4a82cc"/>
<circle cx="245.1" cy="538.1" r="1.9" fill="#4a82cc"/>
<circle cx="241.4" cy="540.7" r="1.9" fill="#4a82cc"/>
<circle cx="245.1" cy="538.1" r="1.9" fill="#4a82cc"/>
<circle cx="245.9" cy="540.9" r="1.9" fill="#4a82cc"/>
<circle cx="249.0" cy="536.7" r="1.9" fill="#4a82cc"/>
<circle cx="243.6" cy="542.7" r="1.9" fill="#4a82cc"/>
<circle cx="246.0" cy="537.1" r="1.9" fill="#4a82cc"/>
<circle cx="245.0" cy="539.2" r="1.9" fill="#4a82cc"/>
<circle cx="243.0" cy="540.2" r="1.9" fill="#4a82cc"/>
<circle cx="242.8" cy="536.7" r="1.9" fill="#4a82cc"/>
<circle cx="251.0" cy="532.6" r="1.9" fill="#4a82cc"/>
<circle cx="250.9" cy="531.9" r="1.9" fill="#4a82cc"/>
<circle cx="245.4" cy="540.9" r="1.9" fill="#4a82cc"/>
<circle cx="250.4" cy="535.2" r="1.9" fill="#4a82cc"/>
<circle cx="242.3" cy="538.9" r="1.9" fill="#4a82cc"/>
<circle cx="244.4" cy="538.5" r="1.9" fill="#4a82cc"/>
<circle cx="249.1" cy="534.0" r="1.9" fill="#4a82cc"/>
<circle cx="245.1" cy="538.1" r="1.9" fill="#4a82cc"/>
<circle cx="244.0" cy="541.3" r="1.9" fill="#4a82cc"/>
<circle cx="245.1" cy="535.4" r="1.9" fill="#4a82cc"/>
<circle cx="240.3" cy="537.5" r="1.9" fill="#4a82cc"/>
<circle cx="244.3" cy="538.1" r="1.9" fill="#4a82cc"/>
<circle cx="246.2" cy="534.4" r="1.9" fill="#4a82cc"/>
<circle cx="253.3" cy="532.8" r="1.9" fill="#4a82cc"/>
<circle cx="244.4" cy="542.6" r="1.9" fill="#4a82cc"/>
<circle cx="250.1" cy="536.2" r="1.9" fill="#4a82cc"/>
<circle cx="244.4" cy="537.8" r="1.9" fill="#4a82cc"/>
<circle cx="249.2" cy="532.0" r="1.9" fill="#4a82cc"/>
<circle cx="248.1" cy="535.3" r="1.9" fill="#4a82cc"/>
<circle cx="245.6" cy="538.6" r="1.9" fill="#4a82cc"/>
<circle cx="243.4" cy="539.2" r="1.9" fill="#4a82cc"/>
<circle cx="245.7" cy="534.3" r="1.9" fill="#4a82cc"/>
<circle cx="247.6" cy="536.5" r="1.9" fill="#4a82cc"/>
<circle cx="240.9" cy="540.0" r="1.9" fill="#4a82cc"/>
<circle cx="241.3" cy="540.1" r="1.9" fill="#4a82cc"/>
<circle cx="248.1" cy="535.4" r="1.9" fill="#4a82cc"/>
<circle cx="247.8" cy="535.6" r="1.9" fill="#4a82cc"/>
<circle cx="243.9" cy="538.9" r="1.9" fill="#4a82cc"/>
<circle cx="247.9" cy="532.9" r="1.9" fill="#4a82cc"/>
<circle cx="247.8" cy="534.4" r="1.9" fill="#4a82cc"/>
<circle cx="244.8" cy="536.8" r="1.9" fill="#4a82cc"/>
<circle cx="243.4" cy="541.6" r="1.9" fill="#4a82cc"/>
<circle cx="240.7" cy="538.9" r="1.9" fill="#4a82cc"/>
<circle cx="243.7" cy="540.9" r="1.9" fill="#4a82cc"/>
<circle cx="240.1" cy="535.9" r="1.9" fill="#4a82cc"/>
<circle cx="241.5" cy="535.5" r="1.9" fill="#4a82cc"/>
<circle cx="240.6" cy="535.5" r="1.9" fill="#4a82cc"/>
<circle cx="242.5" cy="540.5" r="1.9" fill="#4a82cc"/>
<circle cx="243.5" cy="536.1" r="1.9" fill="#4a82cc"/>
<circle cx="242.7" cy="539.6" r="1.9" fill="#4a82cc"/>
<circle cx="240.1" cy="541.2" r="1.9" fill="#4a82cc"/>
<circle cx="243.9" cy="536.5" r="1.9" fill="#4a82cc"/>
<circle cx="243.8" cy="537.8" r="1.9" fill="#4a82cc"/>
<line x1="241.20" y1="541.90" x2="315.90" y2="490.20" stroke="#000" stroke-width="2.0" stroke-linecap="butt"/>
<rect x="372.9" y="436.4" width="156.10000000000002" height="142.60000000000002" fill="#fcfcfc"/>
<line x1="409.90" y1="463.50" x2="409.90" y2="541.70" stroke="#bdbdbd" stroke-width="1.0" stroke-linecap="butt"/>
<line x1="409.90" y1="541.70" x2="516.30" y2="541.70" stroke="#bdbdbd" stroke-width="1.0" stroke-linecap="butt"/>
<text transform="translate(403.80,544.99) scale(0.84,1)" x="0" y="0" text-anchor="end" font-size="8.8" font-weight="normal" font-family="'Liberation Serif', serif" fill="#1a1a1a" stroke="#1a1a1a" stroke-width="0.2">0</text>
<text transform="translate(403.80,529.35) scale(0.84,1)" x="0" y="0" text-anchor="end" font-size="8.8" font-weight="normal" font-family="'Liberation Serif', serif" fill="#1a1a1a" stroke="#1a1a1a" stroke-width="0.2">200</text>
<text transform="translate(403.80,513.71) scale(0.84,1)" x="0" y="0" text-anchor="end" font-size="8.8" font-weight="normal" font-family="'Liberation Serif', serif" fill="#1a1a1a" stroke="#1a1a1a" stroke-width="0.2">400</text>
<text transform="translate(403.80,498.07) scale(0.84,1)" x="0" y="0" text-anchor="end" font-size="8.8" font-weight="normal" font-family="'Liberation Serif', serif" fill="#1a1a1a" stroke="#1a1a1a" stroke-width="0.2">600</text>
<text transform="translate(403.80,482.43) scale(0.84,1)" x="0" y="0" text-anchor="end" font-size="8.8" font-weight="normal" font-family="'Liberation Serif', serif" fill="#1a1a1a" stroke="#1a1a1a" stroke-width="0.2">800</text>
<text transform="translate(403.80,466.79) scale(0.84,1)" x="0" y="0" text-anchor="end" font-size="8.8" font-weight="normal" font-family="'Liberation Serif', serif" fill="#1a1a1a" stroke="#1a1a1a" stroke-width="0.2">1000</text>
<text transform="translate(409.90,555.70) scale(0.84,1)" x="0" y="0" text-anchor="middle" font-size="8.8" font-weight="normal" font-family="'Liberation Serif', serif" fill="#1a1a1a" stroke="#1a1a1a" stroke-width="0.2">0</text>
<text transform="translate(463.10,555.70) scale(0.84,1)" x="0" y="0" text-anchor="middle" font-size="8.8" font-weight="normal" font-family="'Liberation Serif', serif" fill="#1a1a1a" stroke="#1a1a1a" stroke-width="0.2">500</text>
<text transform="translate(516.30,555.70) scale(0.84,1)" x="0" y="0" text-anchor="middle" font-size="8.8" font-weight="normal" font-family="'Liberation Serif', serif" fill="#1a1a1a" stroke="#1a1a1a" stroke-width="0.2">1000</text>
<text x="438.90" y="453.40" font-size="10.6" font-weight="normal" font-family="'Liberation Serif', serif" fill="#1a1a1a" textLength="40.30" lengthAdjust="spacingAndGlyphs" stroke="#1a1a1a" stroke-width="0.2">micro-flow</text>
<text x="413.50" y="475.60" font-size="13.6" font-weight="normal" font-family="'Liberation Serif', serif" fill="#111" textLength="6.45" lengthAdjust="spacingAndGlyphs" stroke="#111" stroke-width="0.35">R</text>
<text x="420.63" y="470.70" font-size="7.8" font-weight="normal" font-family="'Liberation Serif', serif" fill="#111" textLength="3.47" lengthAdjust="spacingAndGlyphs" stroke="#111" stroke-width="0.35">2</text>
<text x="427.95" y="475.80" font-size="13.6" font-weight="normal" font-family="'Liberation Serif', serif" fill="#111" textLength="4.43" lengthAdjust="spacingAndGlyphs" stroke="#111" stroke-width="0.35">=</text>
<text x="435.36" y="475.60" font-size="13.6" font-weight="normal" font-family="'Liberation Serif', serif" fill="#111" textLength="30.34" lengthAdjust="spacingAndGlyphs" stroke="#111" stroke-width="0.35">0.9799</text>
<text transform="translate(386.80,548.40) rotate(-90)" x="0" y="0" font-size="8.8" font-weight="bold" font-family="'Liberation Serif', serif" fill="#1a1a1a" textLength="95.60" lengthAdjust="spacingAndGlyphs">Peak Area MEF sample1r</text>
<text x="427.00" y="568.50" font-size="9.3" font-weight="normal" font-family="'Liberation Serif', serif" fill="#1a1a1a" textLength="71.50" lengthAdjust="spacingAndGlyphs" stroke="#1a1a1a" stroke-width="0.25">Peak area MEF sample1</text>
<ellipse cx="501.0" cy="471.6" rx="1.6" ry="1.95" fill="none" stroke="#a2b8e8" stroke-width="1.15"/>
<ellipse cx="466.7" cy="495.6" rx="1.6" ry="1.95" fill="none" stroke="#a2b8e8" stroke-width="1.15"/>
<ellipse cx="445.7" cy="511.6" rx="1.6" ry="1.95" fill="none" stroke="#a2b8e8" stroke-width="1.15"/>
<ellipse cx="440.0" cy="516.3" rx="1.6" ry="1.95" fill="none" stroke="#a2b8e8" stroke-width="1.15"/>
<ellipse cx="432.3" cy="522.0" rx="1.6" ry="1.95" fill="none" stroke="#a2b8e8" stroke-width="1.15"/>
<ellipse cx="426.6" cy="524.9" rx="1.6" ry="1.95" fill="none" stroke="#a2b8e8" stroke-width="1.15"/>
<ellipse cx="423.0" cy="528.0" rx="1.6" ry="1.95" fill="none" stroke="#a2b8e8" stroke-width="1.15"/>
<ellipse cx="420.0" cy="530.0" rx="1.6" ry="1.95" fill="none" stroke="#a2b8e8" stroke-width="1.15"/>
<ellipse cx="418.5" cy="531.0" rx="1.6" ry="1.95" fill="none" stroke="#a2b8e8" stroke-width="1.15"/>
<ellipse cx="425.6" cy="531.5" rx="1.6" ry="1.95" fill="none" stroke="#a2b8e8" stroke-width="1.15"/>
<ellipse cx="429.0" cy="526.0" rx="1.6" ry="1.95" fill="none" stroke="#a2b8e8" stroke-width="1.15"/>
<ellipse cx="435.0" cy="520.0" rx="1.6" ry="1.95" fill="none" stroke="#a2b8e8" stroke-width="1.15"/>
<circle cx="414.9" cy="539.2" r="1.8" fill="#3a79c9"/>
<circle cx="414.5" cy="534.7" r="1.8" fill="#3a79c9"/>
<circle cx="413.1" cy="538.4" r="1.8" fill="#3a79c9"/>
<circle cx="411.6" cy="538.1" r="1.8" fill="#3a79c9"/>
<circle cx="413.1" cy="539.7" r="1.8" fill="#3a79c9"/>
<circle cx="410.8" cy="541.2" r="1.8" fill="#3a79c9"/>
<circle cx="411.7" cy="537.0" r="1.8" fill="#3a79c9"/>
<circle cx="412.9" cy="539.3" r="1.8" fill="#3a79c9"/>
<circle cx="412.3" cy="536.6" r="1.8" fill="#3a79c9"/>
<circle cx="417.3" cy="535.4" r="1.8" fill="#3a79c9"/>
<circle cx="415.2" cy="533.6" r="1.8" fill="#3a79c9"/>
<circle cx="410.7" cy="538.2" r="1.8" fill="#3a79c9"/>
<circle cx="414.5" cy="535.4" r="1.8" fill="#3a79c9"/>
<circle cx="411.0" cy="540.1" r="1.8" fill="#3a79c9"/>
<circle cx="416.9" cy="535.9" r="1.8" fill="#3a79c9"/>
<circle cx="411.0" cy="538.5" r="1.8" fill="#3a79c9"/>
<circle cx="416.2" cy="535.2" r="1.8" fill="#3a79c9"/>
<circle cx="413.5" cy="535.4" r="1.8" fill="#3a79c9"/>
<circle cx="411.4" cy="541.3" r="1.8" fill="#3a79c9"/>
<circle cx="411.8" cy="537.2" r="1.8" fill="#3a79c9"/>
<circle cx="416.5" cy="535.3" r="1.8" fill="#3a79c9"/>
<circle cx="414.1" cy="534.7" r="1.8" fill="#3a79c9"/>
<circle cx="414.3" cy="534.3" r="1.8" fill="#3a79c9"/>
<circle cx="415.5" cy="535.3" r="1.8" fill="#3a79c9"/>
<circle cx="412.7" cy="539.1" r="1.8" fill="#3a79c9"/>
<circle cx="415.4" cy="534.4" r="1.8" fill="#3a79c9"/>
<circle cx="411.4" cy="540.4" r="1.8" fill="#3a79c9"/>
<circle cx="410.8" cy="538.6" r="1.8" fill="#3a79c9"/>
<circle cx="410.1" cy="538.9" r="1.8" fill="#3a79c9"/>
<circle cx="411.2" cy="539.3" r="1.8" fill="#3a79c9"/>
<circle cx="413.1" cy="539.8" r="1.8" fill="#3a79c9"/>
<circle cx="412.2" cy="539.3" r="1.8" fill="#3a79c9"/>
<circle cx="411.1" cy="539.6" r="1.8" fill="#3a79c9"/>
<circle cx="409.9" cy="540.4" r="1.8" fill="#3a79c9"/>
<circle cx="411.3" cy="541.7" r="1.8" fill="#3a79c9"/>
<circle cx="412.9" cy="536.7" r="1.8" fill="#3a79c9"/>
<circle cx="414.6" cy="539.2" r="1.8" fill="#3a79c9"/>
<circle cx="412.1" cy="541.3" r="1.8" fill="#3a79c9"/>
<circle cx="413.1" cy="538.3" r="1.8" fill="#3a79c9"/>
<circle cx="415.2" cy="535.3" r="1.8" fill="#3a79c9"/>
<circle cx="410.9" cy="539.7" r="1.8" fill="#3a79c9"/>
<circle cx="412.4" cy="537.1" r="1.8" fill="#3a79c9"/>
<circle cx="412.0" cy="539.8" r="1.8" fill="#3a79c9"/>
<circle cx="411.3" cy="537.5" r="1.8" fill="#3a79c9"/>
<circle cx="410.4" cy="534.9" r="1.8" fill="#3a79c9"/>
<circle cx="409.7" cy="535.0" r="1.8" fill="#3a79c9"/>
<circle cx="411.7" cy="536.4" r="1.8" fill="#3a79c9"/>
<circle cx="409.8" cy="535.1" r="1.8" fill="#3a79c9"/>
<circle cx="412.0" cy="541.0" r="1.8" fill="#3a79c9"/>
<circle cx="411.4" cy="536.6" r="1.8" fill="#3a79c9"/>
<circle cx="410.1" cy="536.7" r="1.8" fill="#3a79c9"/>
<circle cx="410.8" cy="535.7" r="1.8" fill="#3a79c9"/>
<line x1="410.20" y1="541.40" x2="501.00" y2="471.60" stroke="#000" stroke-width="2.0" stroke-linecap="butt"/>
<rect x="532.9" y="436.4" width="157.10000000000002" height="142.60000000000002" fill="#fcfcfc"/>
<line x1="573.80" y1="464.20" x2="573.80" y2="541.30" stroke="#bdbdbd" stroke-width="1.0" stroke-linecap="butt"/>
<line x1="573.80" y1="541.30" x2="674.50" y2="541.30" stroke="#bdbdbd" stroke-width="1.0" stroke-linecap="butt"/>
<text transform="translate(567.40,544.99) scale(0.84,1)" x="0" y="0" text-anchor="end" font-size="8.8" font-weight="normal" font-family="'Liberation Serif', serif" fill="#1a1a1a" stroke="#1a1a1a" stroke-width="0.2">0</text>
<text transform="translate(567.40,529.43) scale(0.84,1)" x="0" y="0" text-anchor="end" font-size="8.8" font-weight="normal" font-family="'Liberation Serif', serif" fill="#1a1a1a" stroke="#1a1a1a" stroke-width="0.2">200</text>
<text transform="translate(567.40,513.87) scale(0.84,1)" x="0" y="0" text-anchor="end" font-size="8.8" font-weight="normal" font-family="'Liberation Serif', serif" fill="#1a1a1a" stroke="#1a1a1a" stroke-width="0.2">400</text>
<text transform="translate(567.40,498.31) scale(0.84,1)" x="0" y="0" text-anchor="end" font-size="8.8" font-weight="normal" font-family="'Liberation Serif', serif" fill="#1a1a1a" stroke="#1a1a1a" stroke-width="0.2">600</text>
<text transform="translate(567.40,482.75) scale(0.84,1)" x="0" y="0" text-anchor="end" font-size="8.8" font-weight="normal" font-family="'Liberation Serif', serif" fill="#1a1a1a" stroke="#1a1a1a" stroke-width="0.2">800</text>
<text transform="translate(567.40,467.19) scale(0.84,1)" x="0" y="0" text-anchor="end" font-size="8.8" font-weight="normal" font-family="'Liberation Serif', serif" fill="#1a1a1a" stroke="#1a1a1a" stroke-width="0.2">1000</text>
<text transform="translate(573.80,555.70) scale(0.84,1)" x="0" y="0" text-anchor="middle" font-size="8.8" font-weight="normal" font-family="'Liberation Serif', serif" fill="#1a1a1a" stroke="#1a1a1a" stroke-width="0.2">0</text>
<text transform="translate(607.00,555.70) scale(0.84,1)" x="0" y="0" text-anchor="middle" font-size="8.8" font-weight="normal" font-family="'Liberation Serif', serif" fill="#1a1a1a" stroke="#1a1a1a" stroke-width="0.2">500</text>
<text transform="translate(641.40,555.70) scale(0.84,1)" x="0" y="0" text-anchor="middle" font-size="8.8" font-weight="normal" font-family="'Liberation Serif', serif" fill="#1a1a1a" stroke="#1a1a1a" stroke-width="0.2">1000</text>
<text transform="translate(674.60,555.70) scale(0.84,1)" x="0" y="0" text-anchor="middle" font-size="8.8" font-weight="normal" font-family="'Liberation Serif', serif" fill="#1a1a1a" stroke="#1a1a1a" stroke-width="0.2">1500</text>
<text x="599.50" y="453.40" font-size="10.6" font-weight="normal" font-family="'Liberation Serif', serif" fill="#1a1a1a" textLength="46.40" lengthAdjust="spacingAndGlyphs" stroke="#1a1a1a" stroke-width="0.2">micro- flow</text>
<text x="578.50" y="472.50" font-size="13.6" font-weight="normal" font-family="'Liberation Serif', serif" fill="#111" textLength="6.80" lengthAdjust="spacingAndGlyphs" stroke="#111" stroke-width="0.35">R</text>
<text x="586.01" y="467.60" font-size="7.8" font-weight="normal" font-family="'Liberation Serif', serif" fill="#111" textLength="3.65" lengthAdjust="spacingAndGlyphs" stroke="#111" stroke-width="0.35">2</text>
<text x="593.72" y="472.70" font-size="13.6" font-weight="normal" font-family="'Liberation Serif', serif" fill="#111" textLength="4.67" lengthAdjust="spacingAndGlyphs" stroke="#111" stroke-width="0.35">=</text>
<text x="601.54" y="472.50" font-size="13.6" font-weight="normal" font-family="'Liberation Serif', serif" fill="#111" textLength="31.96" lengthAdjust="spacingAndGlyphs" stroke="#111" stroke-width="0.35">0.8871</text>
<text transform="translate(548.80,548.40) rotate(-90)" x="0" y="0" font-size="8.8" font-weight="bold" font-family="'Liberation Serif', serif" fill="#1a1a1a" textLength="94.20" lengthAdjust="spacingAndGlyphs">Peak Area MEF sample2r</text>
<text x="585.60" y="568.50" font-size="9.3" font-weight="normal" font-family="'Liberation Serif', serif" fill="#1a1a1a" textLength="77.20" lengthAdjust="spacingAndGlyphs" stroke="#1a1a1a" stroke-width="0.25">Peak area MEF sample2</text>
<ellipse cx="641.8" cy="481.1" rx="1.6" ry="1.95" fill="none" stroke="#a2b8e8" stroke-width="1.15"/>
<ellipse cx="617.8" cy="500.6" rx="1.6" ry="1.95" fill="none" stroke="#a2b8e8" stroke-width="1.15"/>
<ellipse cx="618.4" cy="500.6" rx="1.6" ry="1.95" fill="none" stroke="#a2b8e8" stroke-width="1.15"/>
<circle cx="590.3" cy="508.8" r="2.0" fill="#8fb0e3"/>
<circle cx="589.9" cy="510.5" r="2.0" fill="#8fb0e3"/>
<circle cx="589.5" cy="511.7" r="2.0" fill="#8fb0e3"/>
<circle cx="588.6" cy="515.7" r="2.0" fill="#8fb0e3"/>
<circle cx="589.5" cy="517.2" r="2.0" fill="#8fb0e3"/>
<circle cx="582.8" cy="522.6" r="2.0" fill="#8fb0e3"/>
<circle cx="582.3" cy="524.9" r="2.0" fill="#8fb0e3"/>
<circle cx="581.7" cy="526.4" r="2.0" fill="#8fb0e3"/>
<circle cx="580.3" cy="527.8" r="2.0" fill="#8fb0e3"/>
<circle cx="578.5" cy="529.5" r="2.0" fill="#8fb0e3"/>
<circle cx="594.4" cy="523.2" r="2.0" fill="#8fb0e3"/>
<circle cx="585.1" cy="531.0" r="2.0" fill="#8fb0e3"/>
<circle cx="579.7" cy="538.7" r="2.0" fill="#8fb0e3"/>
<circle cx="574.3" cy="536.5" r="1.8" fill="#2f72c4"/>
<circle cx="580.1" cy="533.0" r="1.8" fill="#2f72c4"/>
<circle cx="574.8" cy="535.5" r="1.8" fill="#2f72c4"/>
<circle cx="577.6" cy="531.4" r="1.8" fill="#2f72c4"/>
<circle cx="572.8" cy="536.8" r="1.8" fill="#2f72c4"/>
<circle cx="574.7" cy="537.6" r="1.8" fill="#2f72c4"/>
<circle cx="574.4" cy="535.8" r="1.8" fill="#2f72c4"/>
<circle cx="573.7" cy="535.3" r="1.8" fill="#2f72c4"/>
<circle cx="572.5" cy="537.9" r="1.8" fill="#2f72c4"/>
<circle cx="573.2" cy="536.5" r="1.8" fill="#2f72c4"/>
<circle cx="571.9" cy="540.8" r="1.8" fill="#2f72c4"/>
<circle cx="574.2" cy="539.4" r="1.8" fill="#2f72c4"/>
<circle cx="576.6" cy="536.8" r="1.8" fill="#2f72c4"/>
<circle cx="577.3" cy="535.4" r="1.8" fill="#2f72c4"/>
<circle cx="577.4" cy="532.5" r="1.8" fill="#2f72c4"/>
<circle cx="576.3" cy="539.3" r="1.8" fill="#2f72c4"/>
<circle cx="574.2" cy="540.5" r="1.8" fill="#2f72c4"/>
<circle cx="574.6" cy="534.0" r="1.8" fill="#2f72c4"/>
<circle cx="579.0" cy="534.0" r="1.8" fill="#2f72c4"/>
<circle cx="577.1" cy="535.8" r="1.8" fill="#2f72c4"/>
<circle cx="576.0" cy="532.6" r="1.8" fill="#2f72c4"/>
<circle cx="575.7" cy="536.3" r="1.8" fill="#2f72c4"/>
<circle cx="578.7" cy="533.8" r="1.8" fill="#2f72c4"/>
<circle cx="577.8" cy="533.4" r="1.8" fill="#2f72c4"/>
<circle cx="578.5" cy="533.0" r="1.8" fill="#2f72c4"/>
<circle cx="575.6" cy="534.0" r="1.8" fill="#2f72c4"/>
<circle cx="571.3" cy="540.4" r="1.8" fill="#2f72c4"/>
<circle cx="573.2" cy="537.0" r="1.8" fill="#2f72c4"/>
<circle cx="577.7" cy="533.3" r="1.8" fill="#2f72c4"/>
<circle cx="576.7" cy="535.5" r="1.8" fill="#2f72c4"/>
<circle cx="576.5" cy="534.7" r="1.8" fill="#2f72c4"/>
<circle cx="573.6" cy="542.1" r="1.8" fill="#2f72c4"/>
<circle cx="577.0" cy="534.0" r="1.8" fill="#2f72c4"/>
<circle cx="576.3" cy="536.5" r="1.8" fill="#2f72c4"/>
<circle cx="573.8" cy="541.4" r="1.8" fill="#2f72c4"/>
<circle cx="572.4" cy="538.0" r="1.8" fill="#2f72c4"/>
<circle cx="575.0" cy="539.4" r="1.8" fill="#2f72c4"/>
<circle cx="574.6" cy="540.0" r="1.8" fill="#2f72c4"/>
<circle cx="578.3" cy="531.7" r="1.8" fill="#2f72c4"/>
<circle cx="574.7" cy="537.6" r="1.8" fill="#2f72c4"/>
<circle cx="577.6" cy="535.3" r="1.8" fill="#2f72c4"/>
<circle cx="576.7" cy="535.7" r="1.8" fill="#2f72c4"/>
<circle cx="571.6" cy="539.9" r="1.8" fill="#2f72c4"/>
<circle cx="574.9" cy="539.5" r="1.8" fill="#2f72c4"/>
<circle cx="574.6" cy="538.6" r="1.8" fill="#2f72c4"/>
<circle cx="571.6" cy="538.3" r="1.8" fill="#2f72c4"/>
<circle cx="573.0" cy="541.0" r="1.8" fill="#2f72c4"/>
<circle cx="575.3" cy="541.0" r="1.8" fill="#2f72c4"/>
<circle cx="573.1" cy="540.3" r="1.8" fill="#2f72c4"/>
<circle cx="574.1" cy="540.1" r="1.8" fill="#2f72c4"/>
<circle cx="572.2" cy="542.0" r="1.8" fill="#2f72c4"/>
<circle cx="572.6" cy="542.4" r="1.8" fill="#2f72c4"/>
<circle cx="576.6" cy="538.1" r="1.8" fill="#2f72c4"/>
<circle cx="574.0" cy="541.7" r="1.8" fill="#2f72c4"/>
<circle cx="576.8" cy="540.0" r="1.8" fill="#2f72c4"/>
<line x1="574.10" y1="541.00" x2="642.80" y2="474.50" stroke="#000" stroke-width="2.0" stroke-linecap="butt"/>
<rect x="31.3" y="629.4" width="159.7" height="145.60000000000002" fill="#fcfcfc"/>
<line x1="71.70" y1="659.00" x2="71.70" y2="738.10" stroke="#bdbdbd" stroke-width="1.0" stroke-linecap="butt"/>
<line x1="71.70" y1="738.10" x2="177.90" y2="738.10" stroke="#bdbdbd" stroke-width="1.0" stroke-linecap="butt"/>
<text transform="translate(64.90,741.09) scale(0.84,1)" x="0" y="0" text-anchor="end" font-size="8.8" font-weight="normal" font-family="'Liberation Serif', serif" fill="#1a1a1a" stroke="#1a1a1a" stroke-width="0.2">0</text>
<text transform="translate(64.90,727.83) scale(0.84,1)" x="0" y="0" text-anchor="end" font-size="8.8" font-weight="normal" font-family="'Liberation Serif', serif" fill="#1a1a1a" stroke="#1a1a1a" stroke-width="0.2">200</text>
<text transform="translate(64.90,714.56) scale(0.84,1)" x="0" y="0" text-anchor="end" font-size="8.8" font-weight="normal" font-family="'Liberation Serif', serif" fill="#1a1a1a" stroke="#1a1a1a" stroke-width="0.2">400</text>
<text transform="translate(64.90,701.29) scale(0.84,1)" x="0" y="0" text-anchor="end" font-size="8.8" font-weight="normal" font-family="'Liberation Serif', serif" fill="#1a1a1a" stroke="#1a1a1a" stroke-width="0.2">600</text>
<text transform="translate(64.90,688.03) scale(0.84,1)" x="0" y="0" text-anchor="end" font-size="8.8" font-weight="normal" font-family="'Liberation Serif', serif" fill="#1a1a1a" stroke="#1a1a1a" stroke-width="0.2">800</text>
<text transform="translate(64.90,674.76) scale(0.84,1)" x="0" y="0" text-anchor="end" font-size="8.8" font-weight="normal" font-family="'Liberation Serif', serif" fill="#1a1a1a" stroke="#1a1a1a" stroke-width="0.2">1000</text>
<text transform="translate(64.90,661.50) scale(0.84,1)" x="0" y="0" text-anchor="end" font-size="8.8" font-weight="normal" font-family="'Liberation Serif', serif" fill="#1a1a1a" stroke="#1a1a1a" stroke-width="0.2">1200</text>
<text transform="translate(71.40,752.70) scale(0.84,1)" x="0" y="0" text-anchor="middle" font-size="8.8" font-weight="normal" font-family="'Liberation Serif', serif" fill="#1a1a1a" stroke="#1a1a1a" stroke-width="0.2">0</text>
<text transform="translate(106.90,752.70) scale(0.84,1)" x="0" y="0" text-anchor="middle" font-size="8.8" font-weight="normal" font-family="'Liberation Serif', serif" fill="#1a1a1a" stroke="#1a1a1a" stroke-width="0.2">500</text>
<text transform="translate(142.40,752.70) scale(0.84,1)" x="0" y="0" text-anchor="middle" font-size="8.8" font-weight="normal" font-family="'Liberation Serif', serif" fill="#1a1a1a" stroke="#1a1a1a" stroke-width="0.2">1000</text>
<text transform="translate(177.90,752.70) scale(0.84,1)" x="0" y="0" text-anchor="middle" font-size="8.8" font-weight="normal" font-family="'Liberation Serif', serif" fill="#1a1a1a" stroke="#1a1a1a" stroke-width="0.2">1500</text>
<text x="91.90" y="645.30" font-size="10.6" font-weight="normal" font-family="'Liberation Serif', serif" fill="#1a1a1a" textLength="39.80" lengthAdjust="spacingAndGlyphs" stroke="#1a1a1a" stroke-width="0.2">nano-flow</text>
<text x="77.40" y="674.30" font-size="13.6" font-weight="normal" font-family="'Liberation Serif', serif" fill="#111" textLength="6.66" lengthAdjust="spacingAndGlyphs" stroke="#111" stroke-width="0.35">R</text>
<text x="84.76" y="669.40" font-size="7.8" font-weight="normal" font-family="'Liberation Serif', serif" fill="#111" textLength="3.58" lengthAdjust="spacingAndGlyphs" stroke="#111" stroke-width="0.35">2</text>
<text x="92.32" y="674.50" font-size="13.6" font-weight="normal" font-family="'Liberation Serif', serif" fill="#111" textLength="4.57" lengthAdjust="spacingAndGlyphs" stroke="#111" stroke-width="0.35">=</text>
<text x="99.97" y="674.30" font-size="13.6" font-weight="normal" font-family="'Liberation Serif', serif" fill="#111" textLength="31.33" lengthAdjust="spacingAndGlyphs" stroke="#111" stroke-width="0.35">0.9507</text>
<text transform="translate(45.90,732.20) rotate(-90)" x="0" y="0" font-size="7.8" font-weight="bold" font-family="'Liberation Serif', serif" fill="#1a1a1a" textLength="68.40" lengthAdjust="spacingAndGlyphs">Peak area IPSC1r</text>
<text x="93.00" y="767.20" font-size="9.3" font-weight="normal" font-family="'Liberation Serif', serif" fill="#1a1a1a" textLength="52.40" lengthAdjust="spacingAndGlyphs" stroke="#1a1a1a" stroke-width="0.25">Peak Area IPSC1</text>
<ellipse cx="145.9" cy="664.7" rx="1.6" ry="1.95" fill="none" stroke="#f3a194" stroke-width="1.15"/>
<ellipse cx="115.1" cy="680.8" rx="1.6" ry="1.95" fill="none" stroke="#f3a194" stroke-width="1.15"/>
<ellipse cx="118.3" cy="687.0" rx="1.6" ry="1.95" fill="none" stroke="#f3a194" stroke-width="1.15"/>
<ellipse cx="116.8" cy="690.8" rx="1.6" ry="1.95" fill="none" stroke="#f3a194" stroke-width="1.15"/>
<ellipse cx="89.4" cy="719.4" rx="1.6" ry="1.95" fill="none" stroke="#f3a194" stroke-width="1.15"/>
<ellipse cx="92.4" cy="721.5" rx="1.6" ry="1.95" fill="none" stroke="#f3a194" stroke-width="1.15"/>
<ellipse cx="85.9" cy="722.8" rx="1.6" ry="1.95" fill="none" stroke="#f3a194" stroke-width="1.15"/>
<ellipse cx="82.0" cy="727.0" rx="1.6" ry="1.95" fill="none" stroke="#f3a194" stroke-width="1.15"/>
<ellipse cx="78.0" cy="731.0" rx="1.6" ry="1.95" fill="none" stroke="#f3a194" stroke-width="1.15"/>
<circle cx="72.3" cy="735.0" r="1.8" fill="#e0262b"/>
<circle cx="77.6" cy="730.3" r="1.8" fill="#e0262b"/>
<circle cx="74.5" cy="732.5" r="1.8" fill="#e0262b"/>
<circle cx="76.9" cy="736.1" r="1.8" fill="#e0262b"/>
<circle cx="73.3" cy="738.3" r="1.8" fill="#e0262b"/>
<circle cx="76.5" cy="735.9" r="1.8" fill="#e0262b"/>
<circle cx="75.8" cy="732.0" r="1.8" fill="#e0262b"/>
<circle cx="78.2" cy="731.7" r="1.8" fill="#e0262b"/>
<circle cx="69.7" cy="735.9" r="1.8" fill="#e0262b"/>
<circle cx="74.9" cy="734.4" r="1.8" fill="#e0262b"/>
<circle cx="72.3" cy="734.5" r="1.8" fill="#e0262b"/>
<circle cx="73.2" cy="734.9" r="1.8" fill="#e0262b"/>
<circle cx="76.0" cy="730.2" r="1.8" fill="#e0262b"/>
<circle cx="78.2" cy="734.1" r="1.8" fill="#e0262b"/>
<circle cx="73.6" cy="738.8" r="1.8" fill="#e0262b"/>
<circle cx="78.2" cy="734.6" r="1.8" fill="#e0262b"/>
<circle cx="73.0" cy="735.5" r="1.8" fill="#e0262b"/>
<circle cx="76.0" cy="737.2" r="1.8" fill="#e0262b"/>
<circle cx="75.3" cy="733.3" r="1.8" fill="#e0262b"/>
<circle cx="73.8" cy="734.1" r="1.8" fill="#e0262b"/>
<circle cx="70.2" cy="736.1" r="1.8" fill="#e0262b"/>
<circle cx="77.0" cy="731.3" r="1.8" fill="#e0262b"/>
<circle cx="77.6" cy="730.5" r="1.8" fill="#e0262b"/>
<circle cx="73.3" cy="736.2" r="1.8" fill="#e0262b"/>
<circle cx="72.2" cy="736.2" r="1.8" fill="#e0262b"/>
<circle cx="80.0" cy="732.8" r="1.8" fill="#e0262b"/>
<circle cx="78.0" cy="732.8" r="1.8" fill="#e0262b"/>
<circle cx="79.9" cy="733.3" r="1.8" fill="#e0262b"/>
<circle cx="76.2" cy="735.0" r="1.8" fill="#e0262b"/>
<circle cx="72.4" cy="738.6" r="1.8" fill="#e0262b"/>
<circle cx="75.6" cy="735.8" r="1.8" fill="#e0262b"/>
<circle cx="75.5" cy="732.7" r="1.8" fill="#e0262b"/>
<circle cx="73.1" cy="739.3" r="1.8" fill="#e0262b"/>
<circle cx="72.1" cy="737.0" r="1.8" fill="#e0262b"/>
<circle cx="73.2" cy="734.8" r="1.8" fill="#e0262b"/>
<circle cx="78.6" cy="734.7" r="1.8" fill="#e0262b"/>
<circle cx="73.8" cy="736.8" r="1.8" fill="#e0262b"/>
<circle cx="73.7" cy="736.1" r="1.8" fill="#e0262b"/>
<circle cx="73.1" cy="734.0" r="1.8" fill="#e0262b"/>
<circle cx="71.4" cy="735.7" r="1.8" fill="#e0262b"/>
<circle cx="78.3" cy="731.6" r="1.8" fill="#e0262b"/>
<circle cx="74.3" cy="738.0" r="1.8" fill="#e0262b"/>
<circle cx="78.8" cy="730.8" r="1.8" fill="#e0262b"/>
<circle cx="71.2" cy="735.8" r="1.8" fill="#e0262b"/>
<circle cx="71.4" cy="736.8" r="1.8" fill="#e0262b"/>
<circle cx="71.0" cy="736.4" r="1.8" fill="#e0262b"/>
<circle cx="73.5" cy="736.5" r="1.8" fill="#e0262b"/>
<circle cx="79.0" cy="732.8" r="1.8" fill="#e0262b"/>
<circle cx="74.1" cy="734.8" r="1.8" fill="#e0262b"/>
<circle cx="74.9" cy="733.9" r="1.8" fill="#e0262b"/>
<circle cx="72.3" cy="733.9" r="1.8" fill="#e0262b"/>
<circle cx="75.0" cy="737.9" r="1.8" fill="#e0262b"/>
<circle cx="72.2" cy="737.1" r="1.8" fill="#e0262b"/>
<circle cx="77.4" cy="735.0" r="1.8" fill="#e0262b"/>
<circle cx="72.1" cy="735.6" r="1.8" fill="#e0262b"/>
<circle cx="71.3" cy="734.9" r="1.8" fill="#e0262b"/>
<circle cx="72.6" cy="739.0" r="1.8" fill="#e0262b"/>
<circle cx="75.1" cy="738.4" r="1.8" fill="#e0262b"/>
<circle cx="69.9" cy="732.2" r="1.8" fill="#e0262b"/>
<circle cx="74.2" cy="738.5" r="1.8" fill="#e0262b"/>
<circle cx="72.7" cy="736.3" r="1.8" fill="#e0262b"/>
<circle cx="69.8" cy="734.9" r="1.8" fill="#e0262b"/>
<circle cx="75.5" cy="738.0" r="1.8" fill="#e0262b"/>
<circle cx="75.1" cy="739.1" r="1.8" fill="#e0262b"/>
<circle cx="71.3" cy="732.8" r="1.8" fill="#e0262b"/>
<circle cx="70.8" cy="735.8" r="1.8" fill="#e0262b"/>
<circle cx="74.0" cy="738.9" r="1.8" fill="#e0262b"/>
<circle cx="74.3" cy="736.7" r="1.8" fill="#e0262b"/>
<circle cx="74.5" cy="735.3" r="1.8" fill="#e0262b"/>
<circle cx="73.2" cy="732.3" r="1.8" fill="#e0262b"/>
<circle cx="74.7" cy="733.7" r="1.8" fill="#e0262b"/>
<circle cx="75.5" cy="736.7" r="1.8" fill="#e0262b"/>
<circle cx="71.7" cy="732.9" r="1.8" fill="#e0262b"/>
<circle cx="71.4" cy="736.6" r="1.8" fill="#e0262b"/>
<circle cx="74.1" cy="732.8" r="1.8" fill="#e0262b"/>
<circle cx="70.2" cy="735.8" r="1.8" fill="#e0262b"/>
<circle cx="73.4" cy="734.8" r="1.8" fill="#e0262b"/>
<circle cx="71.2" cy="736.4" r="1.8" fill="#e0262b"/>
<circle cx="69.9" cy="734.2" r="1.8" fill="#e0262b"/>
<circle cx="72.7" cy="739.0" r="1.8" fill="#e0262b"/>
<circle cx="83.8" cy="726.8" r="1.8" fill="#e0262b"/>
<circle cx="81.4" cy="727.0" r="1.8" fill="#e0262b"/>
<circle cx="80.7" cy="730.0" r="1.8" fill="#e0262b"/>
<circle cx="83.3" cy="725.4" r="1.8" fill="#e0262b"/>
<circle cx="78.2" cy="730.8" r="1.8" fill="#e0262b"/>
<circle cx="83.3" cy="725.8" r="1.8" fill="#e0262b"/>
<circle cx="80.3" cy="729.4" r="1.8" fill="#e0262b"/>
<circle cx="85.0" cy="723.6" r="1.8" fill="#e0262b"/>
<circle cx="78.0" cy="730.5" r="1.8" fill="#e0262b"/>
<circle cx="81.7" cy="728.2" r="1.8" fill="#e0262b"/>
<circle cx="80.1" cy="730.0" r="1.8" fill="#e0262b"/>
<circle cx="83.9" cy="725.5" r="1.8" fill="#e0262b"/>
<circle cx="80.4" cy="730.3" r="1.8" fill="#e0262b"/>
<circle cx="81.0" cy="729.2" r="1.8" fill="#e0262b"/>
<line x1="71.50" y1="737.80" x2="146.20" y2="665.10" stroke="#000" stroke-width="2.0" stroke-linecap="butt"/>
<rect x="196" y="629" width="160" height="146" fill="#fcfcfc"/>
<line x1="236.20" y1="659.00" x2="236.20" y2="740.20" stroke="#bdbdbd" stroke-width="1.0" stroke-linecap="butt"/>
<line x1="236.20" y1="740.20" x2="341.10" y2="740.20" stroke="#bdbdbd" stroke-width="1.0" stroke-linecap="butt"/>
<text transform="translate(229.70,742.99) scale(0.84,1)" x="0" y="0" text-anchor="end" font-size="8.8" font-weight="normal" font-family="'Liberation Serif', serif" fill="#1a1a1a" stroke="#1a1a1a" stroke-width="0.2">0</text>
<text transform="translate(229.70,731.42) scale(0.84,1)" x="0" y="0" text-anchor="end" font-size="8.8" font-weight="normal" font-family="'Liberation Serif', serif" fill="#1a1a1a" stroke="#1a1a1a" stroke-width="0.2">200</text>
<text transform="translate(229.70,719.85) scale(0.84,1)" x="0" y="0" text-anchor="end" font-size="8.8" font-weight="normal" font-family="'Liberation Serif', serif" fill="#1a1a1a" stroke="#1a1a1a" stroke-width="0.2">400</text>
<text transform="translate(229.70,708.28) scale(0.84,1)" x="0" y="0" text-anchor="end" font-size="8.8" font-weight="normal" font-family="'Liberation Serif', serif" fill="#1a1a1a" stroke="#1a1a1a" stroke-width="0.2">600</text>
<text transform="translate(229.70,696.70) scale(0.84,1)" x="0" y="0" text-anchor="end" font-size="8.8" font-weight="normal" font-family="'Liberation Serif', serif" fill="#1a1a1a" stroke="#1a1a1a" stroke-width="0.2">800</text>
<text transform="translate(229.70,685.13) scale(0.84,1)" x="0" y="0" text-anchor="end" font-size="8.8" font-weight="normal" font-family="'Liberation Serif', serif" fill="#1a1a1a" stroke="#1a1a1a" stroke-width="0.2">1000</text>
<text transform="translate(229.70,673.56) scale(0.84,1)" x="0" y="0" text-anchor="end" font-size="8.8" font-weight="normal" font-family="'Liberation Serif', serif" fill="#1a1a1a" stroke="#1a1a1a" stroke-width="0.2">1200</text>
<text transform="translate(229.70,661.99) scale(0.84,1)" x="0" y="0" text-anchor="end" font-size="8.8" font-weight="normal" font-family="'Liberation Serif', serif" fill="#1a1a1a" stroke="#1a1a1a" stroke-width="0.2">1400</text>
<text transform="translate(235.90,754.40) scale(0.84,1)" x="0" y="0" text-anchor="middle" font-size="8.8" font-weight="normal" font-family="'Liberation Serif', serif" fill="#1a1a1a" stroke="#1a1a1a" stroke-width="0.2">0</text>
<text transform="translate(270.90,754.40) scale(0.84,1)" x="0" y="0" text-anchor="middle" font-size="8.8" font-weight="normal" font-family="'Liberation Serif', serif" fill="#1a1a1a" stroke="#1a1a1a" stroke-width="0.2">500</text>
<text transform="translate(306.60,754.40) scale(0.84,1)" x="0" y="0" text-anchor="middle" font-size="8.8" font-weight="normal" font-family="'Liberation Serif', serif" fill="#1a1a1a" stroke="#1a1a1a" stroke-width="0.2">1000</text>
<text transform="translate(341.10,754.40) scale(0.84,1)" x="0" y="0" text-anchor="middle" font-size="8.8" font-weight="normal" font-family="'Liberation Serif', serif" fill="#1a1a1a" stroke="#1a1a1a" stroke-width="0.2">1500</text>
<text x="256.20" y="645.50" font-size="10.6" font-weight="normal" font-family="'Liberation Serif', serif" fill="#1a1a1a" textLength="39.60" lengthAdjust="spacingAndGlyphs" stroke="#1a1a1a" stroke-width="0.2">nano-flow</text>
<text x="242.70" y="671.90" font-size="13.6" font-weight="normal" font-family="'Liberation Serif', serif" fill="#111" textLength="6.71" lengthAdjust="spacingAndGlyphs" stroke="#111" stroke-width="0.35">R</text>
<text x="250.11" y="667.00" font-size="7.8" font-weight="normal" font-family="'Liberation Serif', serif" fill="#111" textLength="3.61" lengthAdjust="spacingAndGlyphs" stroke="#111" stroke-width="0.35">2</text>
<text x="257.73" y="672.10" font-size="13.6" font-weight="normal" font-family="'Liberation Serif', serif" fill="#111" textLength="4.61" lengthAdjust="spacingAndGlyphs" stroke="#111" stroke-width="0.35">=</text>
<text x="265.44" y="671.90" font-size="13.6" font-weight="normal" font-family="'Liberation Serif', serif" fill="#111" textLength="31.56" lengthAdjust="spacingAndGlyphs" stroke="#111" stroke-width="0.35">0.9916</text>
<text transform="translate(210.80,732.60) rotate(-90)" x="0" y="0" font-size="7.8" font-weight="bold" font-family="'Liberation Serif', serif" fill="#1a1a1a" textLength="66.70" lengthAdjust="spacingAndGlyphs">Peak area IPSC2r</text>
<text x="259.30" y="768.10" font-size="9.3" font-weight="normal" font-family="'Liberation Serif', serif" fill="#1a1a1a" textLength="52.20" lengthAdjust="spacingAndGlyphs" stroke="#1a1a1a" stroke-width="0.25">Peak Area IPSC2</text>
<ellipse cx="324.9" cy="663.3" rx="1.6" ry="1.95" fill="none" stroke="#f3a194" stroke-width="1.15"/>
<ellipse cx="296.1" cy="690.2" rx="1.6" ry="1.95" fill="none" stroke="#f3a194" stroke-width="1.15"/>
<ellipse cx="282.1" cy="701.3" rx="1.6" ry="1.95" fill="none" stroke="#f3a194" stroke-width="1.15"/>
<ellipse cx="279.5" cy="705.7" rx="1.6" ry="1.95" fill="none" stroke="#f3a194" stroke-width="1.15"/>
<ellipse cx="276.6" cy="706.1" rx="1.6" ry="1.95" fill="none" stroke="#f3a194" stroke-width="1.15"/>
<ellipse cx="261.0" cy="714.3" rx="1.6" ry="1.95" fill="none" stroke="#f3a194" stroke-width="1.15"/>
<ellipse cx="258.4" cy="719.8" rx="1.6" ry="1.95" fill="none" stroke="#f3a194" stroke-width="1.15"/>
<circle cx="238.8" cy="737.8" r="1.7" fill="#e0262b"/>
<circle cx="240.2" cy="736.5" r="1.7" fill="#e0262b"/>
<circle cx="241.6" cy="733.0" r="1.7" fill="#e0262b"/>
<circle cx="237.9" cy="738.1" r="1.7" fill="#e0262b"/>
<circle cx="237.3" cy="738.1" r="1.7" fill="#e0262b"/>
<circle cx="249.2" cy="727.6" r="1.7" fill="#e0262b"/>
<circle cx="240.2" cy="736.0" r="1.7" fill="#e0262b"/>
<circle cx="246.8" cy="730.0" r="1.7" fill="#e0262b"/>
<circle cx="240.5" cy="736.4" r="1.7" fill="#e0262b"/>
<circle cx="239.0" cy="735.1" r="1.7" fill="#e0262b"/>
<circle cx="239.5" cy="736.8" r="1.7" fill="#e0262b"/>
<circle cx="247.3" cy="728.9" r="1.7" fill="#e0262b"/>
<circle cx="249.2" cy="727.7" r="1.7" fill="#e0262b"/>
<circle cx="249.1" cy="728.2" r="1.7" fill="#e0262b"/>
<circle cx="236.5" cy="738.9" r="1.7" fill="#e0262b"/>
<circle cx="249.1" cy="725.9" r="1.7" fill="#e0262b"/>
<circle cx="239.3" cy="735.2" r="1.7" fill="#e0262b"/>
<circle cx="239.3" cy="736.1" r="1.7" fill="#e0262b"/>
<circle cx="246.4" cy="728.6" r="1.7" fill="#e0262b"/>
<circle cx="249.8" cy="726.4" r="1.7" fill="#e0262b"/>
<circle cx="249.9" cy="726.7" r="1.7" fill="#e0262b"/>
<circle cx="240.5" cy="735.3" r="1.7" fill="#e0262b"/>
<circle cx="246.8" cy="729.2" r="1.7" fill="#e0262b"/>
<circle cx="243.9" cy="731.3" r="1.7" fill="#e0262b"/>
<circle cx="238.1" cy="738.9" r="1.7" fill="#e0262b"/>
<circle cx="239.3" cy="737.0" r="1.7" fill="#e0262b"/>
<circle cx="250.0" cy="723.3" r="1.7" fill="#e0262b"/>
<circle cx="239.6" cy="736.3" r="1.7" fill="#e0262b"/>
<circle cx="241.7" cy="735.2" r="1.7" fill="#e0262b"/>
<circle cx="243.9" cy="730.9" r="1.7" fill="#e0262b"/>
<circle cx="237.4" cy="737.8" r="1.7" fill="#e0262b"/>
<circle cx="243.0" cy="731.8" r="1.7" fill="#e0262b"/>
<circle cx="239.5" cy="736.5" r="1.7" fill="#e0262b"/>
<circle cx="243.4" cy="732.4" r="1.7" fill="#e0262b"/>
<circle cx="239.0" cy="736.4" r="1.7" fill="#e0262b"/>
<circle cx="250.7" cy="726.1" r="1.7" fill="#e0262b"/>
<circle cx="248.3" cy="727.0" r="1.7" fill="#e0262b"/>
<circle cx="238.3" cy="734.7" r="1.7" fill="#e0262b"/>
<circle cx="240.3" cy="734.7" r="1.7" fill="#e0262b"/>
<circle cx="239.5" cy="734.5" r="1.7" fill="#e0262b"/>
<circle cx="244.6" cy="732.6" r="1.7" fill="#e0262b"/>
<circle cx="238.2" cy="737.1" r="1.7" fill="#e0262b"/>
<circle cx="238.3" cy="736.7" r="1.7" fill="#e0262b"/>
<circle cx="245.3" cy="730.8" r="1.7" fill="#e0262b"/>
<circle cx="243.9" cy="733.1" r="1.7" fill="#e0262b"/>
<circle cx="240.5" cy="735.2" r="1.7" fill="#e0262b"/>
<circle cx="245.6" cy="730.7" r="1.7" fill="#e0262b"/>
<circle cx="240.3" cy="736.1" r="1.7" fill="#e0262b"/>
<circle cx="241.2" cy="731.6" r="1.7" fill="#e0262b"/>
<circle cx="240.8" cy="734.0" r="1.7" fill="#e0262b"/>
<circle cx="248.8" cy="726.3" r="1.7" fill="#e0262b"/>
<circle cx="241.5" cy="734.5" r="1.7" fill="#e0262b"/>
<circle cx="243.3" cy="731.1" r="1.7" fill="#e0262b"/>
<circle cx="237.3" cy="737.9" r="1.7" fill="#e0262b"/>
<circle cx="239.6" cy="733.9" r="1.7" fill="#e0262b"/>
<circle cx="237.0" cy="738.9" r="1.7" fill="#e0262b"/>
<circle cx="237.9" cy="735.0" r="1.7" fill="#e0262b"/>
<circle cx="243.1" cy="732.9" r="1.7" fill="#e0262b"/>
<circle cx="244.8" cy="732.0" r="1.7" fill="#e0262b"/>
<circle cx="246.9" cy="729.1" r="1.7" fill="#e0262b"/>
<circle cx="237.8" cy="738.2" r="1.7" fill="#e0262b"/>
<circle cx="242.6" cy="733.5" r="1.7" fill="#e0262b"/>
<circle cx="249.4" cy="726.7" r="1.7" fill="#e0262b"/>
<circle cx="247.2" cy="730.2" r="1.7" fill="#e0262b"/>
<circle cx="243.6" cy="732.5" r="1.7" fill="#e0262b"/>
<circle cx="241.0" cy="734.4" r="1.7" fill="#e0262b"/>
<circle cx="241.2" cy="733.3" r="1.7" fill="#e0262b"/>
<circle cx="242.4" cy="732.2" r="1.7" fill="#e0262b"/>
<circle cx="238.0" cy="737.5" r="1.7" fill="#e0262b"/>
<circle cx="237.8" cy="738.0" r="1.7" fill="#e0262b"/>
<circle cx="235.7" cy="738.3" r="1.7" fill="#e0262b"/>
<circle cx="235.8" cy="738.9" r="1.7" fill="#e0262b"/>
<circle cx="238.6" cy="737.6" r="1.7" fill="#e0262b"/>
<circle cx="235.7" cy="737.5" r="1.7" fill="#e0262b"/>
<circle cx="237.0" cy="740.2" r="1.7" fill="#e0262b"/>
<circle cx="236.0" cy="739.6" r="1.7" fill="#e0262b"/>
<circle cx="239.5" cy="738.9" r="1.7" fill="#e0262b"/>
<circle cx="238.8" cy="735.7" r="1.7" fill="#e0262b"/>
<circle cx="239.4" cy="737.5" r="1.7" fill="#e0262b"/>
<circle cx="239.3" cy="740.0" r="1.7" fill="#e0262b"/>
<circle cx="236.2" cy="739.2" r="1.7" fill="#e0262b"/>
<circle cx="239.2" cy="734.9" r="1.7" fill="#e0262b"/>
<circle cx="236.9" cy="739.0" r="1.7" fill="#e0262b"/>
<circle cx="236.1" cy="739.9" r="1.7" fill="#e0262b"/>
<circle cx="241.0" cy="740.5" r="1.7" fill="#e0262b"/>
<circle cx="243.0" cy="740.5" r="1.7" fill="#e0262b"/>
<line x1="236.60" y1="739.90" x2="326.10" y2="666.40" stroke="#000" stroke-width="2.0" stroke-linecap="butt"/>
<rect x="366.5" y="624.8" width="158.0" height="149.70000000000005" fill="#fcfcfc"/>
<line x1="405.00" y1="659.50" x2="405.00" y2="740.00" stroke="#bdbdbd" stroke-width="1.0" stroke-linecap="butt"/>
<line x1="405.00" y1="740.00" x2="517.50" y2="740.00" stroke="#bdbdbd" stroke-width="1.0" stroke-linecap="butt"/>
<text transform="translate(399.00,742.99) scale(0.84,1)" x="0" y="0" text-anchor="end" font-size="8.8" font-weight="normal" font-family="'Liberation Serif', serif" fill="#1a1a1a" stroke="#1a1a1a" stroke-width="0.2">0</text>
<text transform="translate(399.00,716.29) scale(0.84,1)" x="0" y="0" text-anchor="end" font-size="8.8" font-weight="normal" font-family="'Liberation Serif', serif" fill="#1a1a1a" stroke="#1a1a1a" stroke-width="0.2">50</text>
<text transform="translate(399.00,689.59) scale(0.84,1)" x="0" y="0" text-anchor="end" font-size="8.8" font-weight="normal" font-family="'Liberation Serif', serif" fill="#1a1a1a" stroke="#1a1a1a" stroke-width="0.2">100</text>
<text transform="translate(399.00,662.89) scale(0.84,1)" x="0" y="0" text-anchor="end" font-size="8.8" font-weight="normal" font-family="'Liberation Serif', serif" fill="#1a1a1a" stroke="#1a1a1a" stroke-width="0.2">150</text>
<text transform="translate(404.70,754.40) scale(0.84,1)" x="0" y="0" text-anchor="middle" font-size="8.8" font-weight="normal" font-family="'Liberation Serif', serif" fill="#1a1a1a" stroke="#1a1a1a" stroke-width="0.2">0</text>
<text transform="translate(442.63,754.40) scale(0.84,1)" x="0" y="0" text-anchor="middle" font-size="8.8" font-weight="normal" font-family="'Liberation Serif', serif" fill="#1a1a1a" stroke="#1a1a1a" stroke-width="0.2">50</text>
<text transform="translate(480.57,754.40) scale(0.84,1)" x="0" y="0" text-anchor="middle" font-size="8.8" font-weight="normal" font-family="'Liberation Serif', serif" fill="#1a1a1a" stroke="#1a1a1a" stroke-width="0.2">100</text>
<text transform="translate(518.50,754.40) scale(0.84,1)" x="0" y="0" text-anchor="middle" font-size="8.8" font-weight="normal" font-family="'Liberation Serif', serif" fill="#1a1a1a" stroke="#1a1a1a" stroke-width="0.2">150</text>
<text x="430.70" y="645.20" font-size="10.6" font-weight="normal" font-family="'Liberation Serif', serif" fill="#1a1a1a" textLength="38.20" lengthAdjust="spacingAndGlyphs" stroke="#1a1a1a" stroke-width="0.2">nano-flow</text>
<text x="409.60" y="672.70" font-size="13.6" font-weight="normal" font-family="'Liberation Serif', serif" fill="#111" textLength="6.37" lengthAdjust="spacingAndGlyphs" stroke="#111" stroke-width="0.35">R</text>
<text x="416.63" y="667.80" font-size="7.8" font-weight="normal" font-family="'Liberation Serif', serif" fill="#111" textLength="3.42" lengthAdjust="spacingAndGlyphs" stroke="#111" stroke-width="0.35">2</text>
<text x="423.85" y="672.90" font-size="13.6" font-weight="normal" font-family="'Liberation Serif', serif" fill="#111" textLength="4.37" lengthAdjust="spacingAndGlyphs" stroke="#111" stroke-width="0.35">=</text>
<text x="431.17" y="672.70" font-size="13.6" font-weight="normal" font-family="'Liberation Serif', serif" fill="#111" textLength="29.93" lengthAdjust="spacingAndGlyphs" stroke="#111" stroke-width="0.35">0.9125</text>
<text transform="translate(384.50,753.10) rotate(-90)" x="0" y="0" font-size="8.2" font-weight="bold" font-family="'Liberation Serif', serif" fill="#1a1a1a" textLength="103.50" lengthAdjust="spacingAndGlyphs">Peak Area MEF sample1r</text>
<text x="425.20" y="769.40" font-size="9.3" font-weight="normal" font-family="'Liberation Serif', serif" fill="#1a1a1a" textLength="71.30" lengthAdjust="spacingAndGlyphs" stroke="#1a1a1a" stroke-width="0.25">Peak area MEF sample1</text>
<ellipse cx="480.7" cy="675.5" rx="1.6" ry="1.95" fill="none" stroke="#f29689" stroke-width="1.15"/>
<ellipse cx="494.1" cy="675.2" rx="1.6" ry="1.95" fill="none" stroke="#f29689" stroke-width="1.15"/>
<ellipse cx="495.6" cy="677.0" rx="1.6" ry="1.95" fill="none" stroke="#f29689" stroke-width="1.15"/>
<ellipse cx="505.4" cy="687.3" rx="1.6" ry="1.95" fill="none" stroke="#f29689" stroke-width="1.15"/>
<ellipse cx="510.4" cy="689.9" rx="1.6" ry="1.95" fill="none" stroke="#f29689" stroke-width="1.15"/>
<ellipse cx="495.1" cy="695.7" rx="1.6" ry="1.95" fill="none" stroke="#f29689" stroke-width="1.15"/>
<ellipse cx="472.3" cy="685.3" rx="1.6" ry="1.95" fill="none" stroke="#f29689" stroke-width="1.15"/>
<ellipse cx="473.2" cy="685.8" rx="1.6" ry="1.95" fill="none" stroke="#f29689" stroke-width="1.15"/>
<ellipse cx="474.5" cy="689.0" rx="1.6" ry="1.95" fill="none" stroke="#f29689" stroke-width="1.15"/>
<ellipse cx="467.0" cy="687.7" rx="1.6" ry="1.95" fill="none" stroke="#f29689" stroke-width="1.15"/>
<ellipse cx="463.3" cy="690.5" rx="1.6" ry="1.95" fill="none" stroke="#f29689" stroke-width="1.15"/>
<ellipse cx="454.9" cy="695.7" rx="1.6" ry="1.95" fill="none" stroke="#f29689" stroke-width="1.15"/>
<ellipse cx="461.4" cy="698.0" rx="1.6" ry="1.95" fill="none" stroke="#f29689" stroke-width="1.15"/>
<ellipse cx="467.0" cy="696.1" rx="1.6" ry="1.95" fill="none" stroke="#f29689" stroke-width="1.15"/>
<ellipse cx="474.5" cy="701.4" rx="1.6" ry="1.95" fill="none" stroke="#f29689" stroke-width="1.15"/>
<ellipse cx="464.2" cy="705.5" rx="1.6" ry="1.95" fill="none" stroke="#f29689" stroke-width="1.15"/>
<ellipse cx="454.9" cy="711.6" rx="1.6" ry="1.95" fill="none" stroke="#f29689" stroke-width="1.15"/>
<ellipse cx="447.4" cy="702.7" rx="1.6" ry="1.95" fill="none" stroke="#f29689" stroke-width="1.15"/>
<ellipse cx="450.2" cy="705.1" rx="1.6" ry="1.95" fill="none" stroke="#f29689" stroke-width="1.15"/>
<ellipse cx="443.6" cy="705.5" rx="1.6" ry="1.95" fill="none" stroke="#f29689" stroke-width="1.15"/>
<ellipse cx="439.9" cy="709.2" rx="1.6" ry="1.95" fill="none" stroke="#f29689" stroke-width="1.15"/>
<ellipse cx="433.3" cy="713.9" rx="1.6" ry="1.95" fill="none" stroke="#f29689" stroke-width="1.15"/>
<ellipse cx="427.2" cy="714.8" rx="1.6" ry="1.95" fill="none" stroke="#f29689" stroke-width="1.15"/>
<ellipse cx="433.3" cy="728.3" rx="1.6" ry="1.95" fill="none" stroke="#f29689" stroke-width="1.15"/>
<ellipse cx="444.0" cy="716.7" rx="1.6" ry="1.95" fill="none" stroke="#f29689" stroke-width="1.15"/>
<ellipse cx="417.4" cy="739.1" rx="1.6" ry="1.95" fill="none" stroke="#f29689" stroke-width="1.15"/>
<ellipse cx="422.7" cy="739.1" rx="1.6" ry="1.95" fill="none" stroke="#f29689" stroke-width="1.15"/>
<ellipse cx="408.5" cy="726.4" rx="1.6" ry="1.95" fill="none" stroke="#f29689" stroke-width="1.15"/>
<ellipse cx="404.4" cy="722.3" rx="1.6" ry="1.95" fill="none" stroke="#f29689" stroke-width="1.15"/>
<ellipse cx="436.0" cy="711.0" rx="1.6" ry="1.95" fill="none" stroke="#f29689" stroke-width="1.15"/>
<ellipse cx="430.0" cy="716.0" rx="1.6" ry="1.95" fill="none" stroke="#f29689" stroke-width="1.15"/>
<ellipse cx="441.0" cy="712.0" rx="1.6" ry="1.95" fill="none" stroke="#f29689" stroke-width="1.15"/>
<ellipse cx="425.0" cy="718.0" rx="1.6" ry="1.95" fill="none" stroke="#f29689" stroke-width="1.15"/>
<ellipse cx="420.0" cy="721.0" rx="1.6" ry="1.95" fill="none" stroke="#f29689" stroke-width="1.15"/>
<ellipse cx="416.0" cy="723.5" rx="1.6" ry="1.95" fill="none" stroke="#f29689" stroke-width="1.15"/>
<ellipse cx="412.0" cy="727.0" rx="1.6" ry="1.95" fill="none" stroke="#f29689" stroke-width="1.15"/>
<ellipse cx="434.0" cy="710.5" rx="1.6" ry="1.95" fill="none" stroke="#f29689" stroke-width="1.15"/>
<ellipse cx="438.0" cy="708.0" rx="1.6" ry="1.95" fill="none" stroke="#f29689" stroke-width="1.15"/>
<circle cx="411.8" cy="733.3" r="1.6" fill="#e0262b"/>
<circle cx="419.7" cy="728.1" r="1.6" fill="#e0262b"/>
<circle cx="413.8" cy="731.9" r="1.6" fill="#e0262b"/>
<circle cx="409.3" cy="735.3" r="1.6" fill="#e0262b"/>
<circle cx="430.3" cy="719.8" r="1.6" fill="#e0262b"/>
<circle cx="423.5" cy="721.3" r="1.6" fill="#e0262b"/>
<circle cx="434.4" cy="714.2" r="1.6" fill="#e0262b"/>
<circle cx="423.2" cy="723.0" r="1.6" fill="#e0262b"/>
<circle cx="424.3" cy="725.4" r="1.6" fill="#e0262b"/>
<circle cx="417.6" cy="728.2" r="1.6" fill="#e0262b"/>
<circle cx="411.3" cy="729.2" r="1.6" fill="#e0262b"/>
<circle cx="422.1" cy="725.3" r="1.6" fill="#e0262b"/>
<circle cx="408.0" cy="734.3" r="1.6" fill="#e0262b"/>
<circle cx="420.0" cy="728.1" r="1.6" fill="#e0262b"/>
<circle cx="406.3" cy="736.3" r="1.6" fill="#e0262b"/>
<circle cx="406.6" cy="735.3" r="1.6" fill="#e0262b"/>
<circle cx="409.0" cy="733.3" r="1.6" fill="#e0262b"/>
<circle cx="408.1" cy="736.3" r="1.6" fill="#e0262b"/>
<circle cx="424.8" cy="722.0" r="1.6" fill="#e0262b"/>
<circle cx="415.7" cy="730.5" r="1.6" fill="#e0262b"/>
<circle cx="413.2" cy="730.5" r="1.6" fill="#e0262b"/>
<circle cx="437.1" cy="715.4" r="1.6" fill="#e0262b"/>
<circle cx="420.3" cy="727.1" r="1.6" fill="#e0262b"/>
<circle cx="405.9" cy="736.2" r="1.6" fill="#e0262b"/>
<circle cx="407.2" cy="736.5" r="1.6" fill="#e0262b"/>
<circle cx="418.6" cy="725.9" r="1.6" fill="#e0262b"/>
<circle cx="412.9" cy="729.6" r="1.6" fill="#e0262b"/>
<circle cx="430.4" cy="721.7" r="1.6" fill="#e0262b"/>
<circle cx="417.0" cy="729.0" r="1.6" fill="#e0262b"/>
<circle cx="410.5" cy="734.6" r="1.6" fill="#e0262b"/>
<circle cx="429.2" cy="719.8" r="1.6" fill="#e0262b"/>
<circle cx="427.4" cy="719.6" r="1.6" fill="#e0262b"/>
<circle cx="420.6" cy="728.9" r="1.6" fill="#e0262b"/>
<circle cx="438.7" cy="712.1" r="1.6" fill="#e0262b"/>
<circle cx="410.4" cy="733.3" r="1.6" fill="#e0262b"/>
<circle cx="428.2" cy="718.2" r="1.6" fill="#e0262b"/>
<circle cx="436.3" cy="714.8" r="1.6" fill="#e0262b"/>
<circle cx="426.4" cy="724.8" r="1.6" fill="#e0262b"/>
<circle cx="432.7" cy="716.4" r="1.6" fill="#e0262b"/>
<circle cx="421.7" cy="725.6" r="1.6" fill="#e0262b"/>
<circle cx="435.8" cy="717.5" r="1.6" fill="#e0262b"/>
<circle cx="407.5" cy="736.4" r="1.6" fill="#e0262b"/>
<circle cx="405.7" cy="736.2" r="1.6" fill="#e0262b"/>
<circle cx="426.9" cy="722.5" r="1.6" fill="#e0262b"/>
<circle cx="431.6" cy="717.3" r="1.6" fill="#e0262b"/>
<circle cx="407.1" cy="734.5" r="1.6" fill="#e0262b"/>
<circle cx="409.4" cy="735.2" r="1.6" fill="#e0262b"/>
<circle cx="433.6" cy="717.0" r="1.6" fill="#e0262b"/>
<circle cx="411.0" cy="733.2" r="1.6" fill="#e0262b"/>
<circle cx="429.6" cy="720.2" r="1.6" fill="#e0262b"/>
<circle cx="411.0" cy="734.7" r="1.6" fill="#e0262b"/>
<circle cx="413.7" cy="725.8" r="1.6" fill="#e0262b"/>
<circle cx="423.7" cy="723.8" r="1.6" fill="#e0262b"/>
<circle cx="417.0" cy="728.3" r="1.6" fill="#e0262b"/>
<circle cx="408.9" cy="734.5" r="1.6" fill="#e0262b"/>
<circle cx="432.1" cy="720.6" r="1.6" fill="#e0262b"/>
<circle cx="440.2" cy="713.1" r="1.6" fill="#e0262b"/>
<circle cx="419.0" cy="727.3" r="1.6" fill="#e0262b"/>
<circle cx="432.6" cy="721.1" r="1.6" fill="#e0262b"/>
<circle cx="412.1" cy="730.3" r="1.6" fill="#e0262b"/>
<circle cx="424.5" cy="722.6" r="1.6" fill="#e0262b"/>
<circle cx="427.1" cy="720.4" r="1.6" fill="#e0262b"/>
<circle cx="416.0" cy="730.6" r="1.6" fill="#e0262b"/>
<circle cx="435.5" cy="718.0" r="1.6" fill="#e0262b"/>
<circle cx="420.8" cy="726.5" r="1.6" fill="#e0262b"/>
<circle cx="409.4" cy="734.3" r="1.6" fill="#e0262b"/>
<circle cx="423.6" cy="724.5" r="1.6" fill="#e0262b"/>
<circle cx="408.7" cy="733.7" r="1.6" fill="#e0262b"/>
<circle cx="416.6" cy="729.2" r="1.6" fill="#e0262b"/>
<circle cx="405.9" cy="735.9" r="1.6" fill="#e0262b"/>
<circle cx="412.8" cy="731.2" r="1.6" fill="#e0262b"/>
<circle cx="408.4" cy="734.7" r="1.6" fill="#e0262b"/>
<circle cx="409.0" cy="736.0" r="1.6" fill="#e0262b"/>
<circle cx="438.8" cy="715.0" r="1.6" fill="#e0262b"/>
<circle cx="415.0" cy="727.7" r="1.6" fill="#e0262b"/>
<circle cx="427.9" cy="722.0" r="1.6" fill="#e0262b"/>
<circle cx="409.2" cy="735.1" r="1.6" fill="#e0262b"/>
<circle cx="415.9" cy="727.3" r="1.6" fill="#e0262b"/>
<circle cx="417.9" cy="728.6" r="1.6" fill="#e0262b"/>
<circle cx="415.7" cy="725.7" r="1.6" fill="#e0262b"/>
<circle cx="429.4" cy="721.2" r="1.6" fill="#e0262b"/>
<circle cx="428.8" cy="720.1" r="1.6" fill="#e0262b"/>
<circle cx="424.8" cy="722.2" r="1.6" fill="#e0262b"/>
<circle cx="412.5" cy="731.7" r="1.6" fill="#e0262b"/>
<circle cx="428.2" cy="721.9" r="1.6" fill="#e0262b"/>
<circle cx="415.5" cy="729.2" r="1.6" fill="#e0262b"/>
<circle cx="437.4" cy="716.6" r="1.6" fill="#e0262b"/>
<circle cx="429.6" cy="720.1" r="1.6" fill="#e0262b"/>
<circle cx="420.8" cy="726.7" r="1.6" fill="#e0262b"/>
<circle cx="437.0" cy="716.0" r="1.6" fill="#e0262b"/>
<circle cx="427.3" cy="720.0" r="1.6" fill="#e0262b"/>
<circle cx="431.7" cy="720.2" r="1.6" fill="#e0262b"/>
<circle cx="426.2" cy="721.9" r="1.6" fill="#e0262b"/>
<circle cx="408.0" cy="737.2" r="1.6" fill="#e0262b"/>
<circle cx="415.8" cy="729.1" r="1.6" fill="#e0262b"/>
<circle cx="416.1" cy="728.9" r="1.6" fill="#e0262b"/>
<circle cx="429.2" cy="719.8" r="1.6" fill="#e0262b"/>
<circle cx="410.1" cy="733.2" r="1.6" fill="#e0262b"/>
<circle cx="430.6" cy="719.6" r="1.6" fill="#e0262b"/>
<circle cx="417.6" cy="729.7" r="1.6" fill="#e0262b"/>
<circle cx="424.4" cy="722.7" r="1.6" fill="#e0262b"/>
<circle cx="417.8" cy="727.9" r="1.6" fill="#e0262b"/>
<circle cx="415.1" cy="731.0" r="1.6" fill="#e0262b"/>
<circle cx="414.8" cy="729.6" r="1.6" fill="#e0262b"/>
<circle cx="428.0" cy="723.2" r="1.6" fill="#e0262b"/>
<circle cx="411.6" cy="732.7" r="1.6" fill="#e0262b"/>
<circle cx="413.6" cy="727.8" r="1.6" fill="#e0262b"/>
<circle cx="406.6" cy="733.8" r="1.6" fill="#e0262b"/>
<circle cx="432.1" cy="719.7" r="1.6" fill="#e0262b"/>
<circle cx="406.1" cy="737.5" r="1.6" fill="#e0262b"/>
<circle cx="408.1" cy="737.3" r="1.6" fill="#e0262b"/>
<circle cx="414.7" cy="728.8" r="1.6" fill="#e0262b"/>
<circle cx="434.7" cy="714.6" r="1.6" fill="#e0262b"/>
<circle cx="426.7" cy="722.4" r="1.6" fill="#e0262b"/>
<circle cx="426.3" cy="720.2" r="1.6" fill="#e0262b"/>
<circle cx="417.7" cy="728.5" r="1.6" fill="#e0262b"/>
<circle cx="408.2" cy="735.9" r="1.6" fill="#e0262b"/>
<circle cx="418.5" cy="727.0" r="1.6" fill="#e0262b"/>
<circle cx="433.9" cy="714.9" r="1.6" fill="#e0262b"/>
<circle cx="417.1" cy="728.8" r="1.6" fill="#e0262b"/>
<circle cx="415.7" cy="730.0" r="1.6" fill="#e0262b"/>
<circle cx="424.4" cy="724.3" r="1.6" fill="#e0262b"/>
<circle cx="436.2" cy="715.5" r="1.6" fill="#e0262b"/>
<circle cx="418.1" cy="729.2" r="1.6" fill="#e0262b"/>
<circle cx="424.3" cy="724.4" r="1.6" fill="#e0262b"/>
<circle cx="413.6" cy="731.8" r="1.6" fill="#e0262b"/>
<circle cx="416.4" cy="728.4" r="1.6" fill="#e0262b"/>
<circle cx="432.0" cy="715.6" r="1.6" fill="#e0262b"/>
<circle cx="411.9" cy="728.1" r="1.6" fill="#e0262b"/>
<circle cx="425.3" cy="722.8" r="1.6" fill="#e0262b"/>
<circle cx="423.0" cy="723.4" r="1.6" fill="#e0262b"/>
<circle cx="405.3" cy="733.4" r="1.6" fill="#e0262b"/>
<circle cx="412.3" cy="732.2" r="1.6" fill="#e0262b"/>
<circle cx="435.6" cy="715.7" r="1.6" fill="#e0262b"/>
<circle cx="421.9" cy="723.2" r="1.6" fill="#e0262b"/>
<circle cx="426.0" cy="722.1" r="1.6" fill="#e0262b"/>
<circle cx="418.7" cy="729.6" r="1.6" fill="#e0262b"/>
<circle cx="410.0" cy="735.8" r="1.6" fill="#e0262b"/>
<circle cx="414.0" cy="729.4" r="1.6" fill="#e0262b"/>
<circle cx="421.5" cy="725.1" r="1.6" fill="#e0262b"/>
<circle cx="405.0" cy="734.2" r="1.6" fill="#e0262b"/>
<circle cx="406.3" cy="723.0" r="1.6" fill="#e0262b"/>
<circle cx="405.3" cy="722.7" r="1.6" fill="#e0262b"/>
<circle cx="404.1" cy="737.4" r="1.6" fill="#e0262b"/>
<circle cx="405.4" cy="739.5" r="1.6" fill="#e0262b"/>
<circle cx="405.0" cy="722.3" r="1.6" fill="#e0262b"/>
<circle cx="404.8" cy="733.2" r="1.6" fill="#e0262b"/>
<circle cx="406.3" cy="740.6" r="1.6" fill="#e0262b"/>
<circle cx="405.1" cy="729.8" r="1.6" fill="#e0262b"/>
<circle cx="404.1" cy="734.2" r="1.6" fill="#e0262b"/>
<circle cx="404.4" cy="724.9" r="1.6" fill="#e0262b"/>
<circle cx="403.8" cy="722.1" r="1.6" fill="#e0262b"/>
<circle cx="405.6" cy="724.3" r="1.6" fill="#e0262b"/>
<circle cx="406.4" cy="723.7" r="1.6" fill="#e0262b"/>
<circle cx="406.1" cy="724.5" r="1.6" fill="#e0262b"/>
<circle cx="403.8" cy="735.7" r="1.6" fill="#e0262b"/>
<circle cx="404.5" cy="735.9" r="1.6" fill="#e0262b"/>
<circle cx="404.3" cy="723.0" r="1.6" fill="#e0262b"/>
<circle cx="405.9" cy="735.6" r="1.6" fill="#e0262b"/>
<circle cx="406.1" cy="735.9" r="1.6" fill="#e0262b"/>
<circle cx="404.0" cy="733.9" r="1.6" fill="#e0262b"/>
<circle cx="405.7" cy="730.8" r="1.6" fill="#e0262b"/>
<circle cx="406.3" cy="726.8" r="1.6" fill="#e0262b"/>
<circle cx="406.4" cy="735.6" r="1.6" fill="#e0262b"/>
<circle cx="403.8" cy="722.3" r="1.6" fill="#e0262b"/>
<circle cx="412.2" cy="739.7" r="1.6" fill="#e0262b"/>
<circle cx="405.9" cy="736.2" r="1.6" fill="#e0262b"/>
<circle cx="413.0" cy="735.2" r="1.6" fill="#e0262b"/>
<circle cx="414.5" cy="737.4" r="1.6" fill="#e0262b"/>
<circle cx="405.7" cy="736.6" r="1.6" fill="#e0262b"/>
<circle cx="411.3" cy="737.1" r="1.6" fill="#e0262b"/>
<circle cx="412.4" cy="735.0" r="1.6" fill="#e0262b"/>
<circle cx="413.8" cy="736.5" r="1.6" fill="#e0262b"/>
<circle cx="412.1" cy="738.4" r="1.6" fill="#e0262b"/>
<circle cx="409.6" cy="736.7" r="1.6" fill="#e0262b"/>
<circle cx="413.6" cy="740.6" r="1.6" fill="#e0262b"/>
<circle cx="413.6" cy="738.0" r="1.6" fill="#e0262b"/>
<circle cx="408.2" cy="734.4" r="1.6" fill="#e0262b"/>
<circle cx="415.7" cy="738.9" r="1.6" fill="#e0262b"/>
<circle cx="414.1" cy="736.3" r="1.6" fill="#e0262b"/>
<circle cx="411.7" cy="740.8" r="1.6" fill="#e0262b"/>
<circle cx="414.1" cy="738.2" r="1.6" fill="#e0262b"/>
<circle cx="408.4" cy="737.0" r="1.6" fill="#e0262b"/>
<circle cx="414.8" cy="736.6" r="1.6" fill="#e0262b"/>
<circle cx="412.5" cy="738.2" r="1.6" fill="#e0262b"/>
<circle cx="414.9" cy="739.7" r="1.6" fill="#e0262b"/>
<circle cx="408.1" cy="734.0" r="1.6" fill="#e0262b"/>
<circle cx="407.9" cy="737.0" r="1.6" fill="#e0262b"/>
<circle cx="411.5" cy="739.7" r="1.6" fill="#e0262b"/>
<circle cx="414.8" cy="734.3" r="1.6" fill="#e0262b"/>
<circle cx="414.2" cy="739.7" r="1.6" fill="#e0262b"/>
<circle cx="414.5" cy="738.0" r="1.6" fill="#e0262b"/>
<circle cx="408.0" cy="740.0" r="1.6" fill="#e0262b"/>
<circle cx="413.9" cy="738.8" r="1.6" fill="#e0262b"/>
<circle cx="415.1" cy="736.4" r="1.6" fill="#e0262b"/>
<line x1="404.40" y1="739.10" x2="511.50" y2="670.70" stroke="#000" stroke-width="2.0" stroke-linecap="butt"/>
<rect x="536.1" y="631.7" width="152.89999999999998" height="144.29999999999995" fill="#fcfcfc"/>
<line x1="572.90" y1="661.60" x2="572.90" y2="740.00" stroke="#bdbdbd" stroke-width="1.0" stroke-linecap="butt"/>
<line x1="572.90" y1="740.00" x2="676.50" y2="740.00" stroke="#bdbdbd" stroke-width="1.0" stroke-linecap="butt"/>
<text transform="translate(566.40,743.23) scale(0.84,1)" x="0" y="0" text-anchor="end" font-size="9.5" font-weight="normal" font-family="'Liberation Serif', serif" fill="#1a1a1a" stroke="#1a1a1a" stroke-width="0.2">0</text>
<text transform="translate(566.40,727.62) scale(0.84,1)" x="0" y="0" text-anchor="end" font-size="9.5" font-weight="normal" font-family="'Liberation Serif', serif" fill="#1a1a1a" stroke="#1a1a1a" stroke-width="0.2">50</text>
<text transform="translate(566.40,712.02) scale(0.84,1)" x="0" y="0" text-anchor="end" font-size="9.5" font-weight="normal" font-family="'Liberation Serif', serif" fill="#1a1a1a" stroke="#1a1a1a" stroke-width="0.2">100</text>
<text transform="translate(566.40,696.41) scale(0.84,1)" x="0" y="0" text-anchor="end" font-size="9.5" font-weight="normal" font-family="'Liberation Serif', serif" fill="#1a1a1a" stroke="#1a1a1a" stroke-width="0.2">150</text>
<text transform="translate(566.40,680.81) scale(0.84,1)" x="0" y="0" text-anchor="end" font-size="9.5" font-weight="normal" font-family="'Liberation Serif', serif" fill="#1a1a1a" stroke="#1a1a1a" stroke-width="0.2">200</text>
<text transform="translate(566.40,665.21) scale(0.84,1)" x="0" y="0" text-anchor="end" font-size="9.5" font-weight="normal" font-family="'Liberation Serif', serif" fill="#1a1a1a" stroke="#1a1a1a" stroke-width="0.2">250</text>
<text transform="translate(572.90,754.40) scale(0.84,1)" x="0" y="0" text-anchor="middle" font-size="8.8" font-weight="normal" font-family="'Liberation Serif', serif" fill="#1a1a1a" stroke="#1a1a1a" stroke-width="0.2">0</text>
<text transform="translate(598.80,754.40) scale(0.84,1)" x="0" y="0" text-anchor="middle" font-size="8.8" font-weight="normal" font-family="'Liberation Serif', serif" fill="#1a1a1a" stroke="#1a1a1a" stroke-width="0.2">50</text>
<text transform="translate(624.70,754.40) scale(0.84,1)" x="0" y="0" text-anchor="middle" font-size="8.8" font-weight="normal" font-family="'Liberation Serif', serif" fill="#1a1a1a" stroke="#1a1a1a" stroke-width="0.2">100</text>
<text transform="translate(650.60,754.40) scale(0.84,1)" x="0" y="0" text-anchor="middle" font-size="8.8" font-weight="normal" font-family="'Liberation Serif', serif" fill="#1a1a1a" stroke="#1a1a1a" stroke-width="0.2">150</text>
<text transform="translate(676.50,754.40) scale(0.84,1)" x="0" y="0" text-anchor="middle" font-size="8.8" font-weight="normal" font-family="'Liberation Serif', serif" fill="#1a1a1a" stroke="#1a1a1a" stroke-width="0.2">200</text>
<text x="591.70" y="647.70" font-size="10.6" font-weight="normal" font-family="'Liberation Serif', serif" fill="#1a1a1a" textLength="40.80" lengthAdjust="spacingAndGlyphs" stroke="#1a1a1a" stroke-width="0.2">nano-flow</text>
<text x="575.00" y="670.50" font-size="13.6" font-weight="normal" font-family="'Liberation Serif', serif" fill="#111" textLength="6.96" lengthAdjust="spacingAndGlyphs" stroke="#111" stroke-width="0.35">R</text>
<text x="582.69" y="665.60" font-size="7.8" font-weight="normal" font-family="'Liberation Serif', serif" fill="#111" textLength="3.74" lengthAdjust="spacingAndGlyphs" stroke="#111" stroke-width="0.35">2</text>
<text x="590.58" y="670.70" font-size="13.6" font-weight="normal" font-family="'Liberation Serif', serif" fill="#111" textLength="4.78" lengthAdjust="spacingAndGlyphs" stroke="#111" stroke-width="0.35">=</text>
<text x="598.58" y="670.50" font-size="13.6" font-weight="normal" font-family="'Liberation Serif', serif" fill="#111" textLength="32.72" lengthAdjust="spacingAndGlyphs" stroke="#111" stroke-width="0.35">0.9900</text>
<text transform="translate(550.50,767.70) rotate(-90)" x="0" y="0" font-size="8.4" font-weight="bold" font-family="'Liberation Serif', serif" fill="#1a1a1a" textLength="103.50" lengthAdjust="spacingAndGlyphs">Peak Area MEF sample2r</text>
<text x="585.70" y="769.00" font-size="9.3" font-weight="normal" font-family="'Liberation Serif', serif" fill="#1a1a1a" textLength="77.60" lengthAdjust="spacingAndGlyphs" stroke="#1a1a1a" stroke-width="0.25">Peak area MEF sample2</text>
<ellipse cx="665.4" cy="677.4" rx="1.6" ry="1.95" fill="none" stroke="#f3a194" stroke-width="1.15"/>
<ellipse cx="662.5" cy="681.3" rx="1.6" ry="1.95" fill="none" stroke="#f3a194" stroke-width="1.15"/>
<ellipse cx="631.3" cy="697.2" rx="1.6" ry="1.95" fill="none" stroke="#f3a194" stroke-width="1.15"/>
<ellipse cx="641.1" cy="695.0" rx="1.6" ry="1.95" fill="none" stroke="#f3a194" stroke-width="1.15"/>
<ellipse cx="636.0" cy="698.9" rx="1.6" ry="1.95" fill="none" stroke="#f3a194" stroke-width="1.15"/>
<ellipse cx="629.1" cy="703.6" rx="1.6" ry="1.95" fill="none" stroke="#f3a194" stroke-width="1.15"/>
<ellipse cx="620.5" cy="707.0" rx="1.6" ry="1.95" fill="none" stroke="#f3a194" stroke-width="1.15"/>
<ellipse cx="624.0" cy="708.7" rx="1.6" ry="1.95" fill="none" stroke="#f3a194" stroke-width="1.15"/>
<ellipse cx="614.5" cy="711.3" rx="1.6" ry="1.95" fill="none" stroke="#f3a194" stroke-width="1.15"/>
<ellipse cx="610.3" cy="714.7" rx="1.6" ry="1.95" fill="none" stroke="#f3a194" stroke-width="1.15"/>
<ellipse cx="606.8" cy="716.4" rx="1.6" ry="1.95" fill="none" stroke="#f3a194" stroke-width="1.15"/>
<circle cx="575.3" cy="736.1" r="1.6" fill="#e0262b"/>
<circle cx="578.5" cy="733.6" r="1.6" fill="#e0262b"/>
<circle cx="598.5" cy="722.9" r="1.6" fill="#e0262b"/>
<circle cx="580.4" cy="732.7" r="1.6" fill="#e0262b"/>
<circle cx="604.2" cy="719.2" r="1.6" fill="#e0262b"/>
<circle cx="594.1" cy="724.7" r="1.6" fill="#e0262b"/>
<circle cx="593.8" cy="726.0" r="1.6" fill="#e0262b"/>
<circle cx="577.8" cy="735.0" r="1.6" fill="#e0262b"/>
<circle cx="590.5" cy="728.0" r="1.6" fill="#e0262b"/>
<circle cx="613.7" cy="712.6" r="1.6" fill="#e0262b"/>
<circle cx="576.6" cy="735.8" r="1.6" fill="#e0262b"/>
<circle cx="590.9" cy="728.7" r="1.6" fill="#e0262b"/>
<circle cx="589.3" cy="728.1" r="1.6" fill="#e0262b"/>
<circle cx="601.9" cy="719.4" r="1.6" fill="#e0262b"/>
<circle cx="611.3" cy="714.6" r="1.6" fill="#e0262b"/>
<circle cx="578.6" cy="735.9" r="1.6" fill="#e0262b"/>
<circle cx="607.5" cy="715.4" r="1.6" fill="#e0262b"/>
<circle cx="609.8" cy="715.6" r="1.6" fill="#e0262b"/>
<circle cx="612.0" cy="715.0" r="1.6" fill="#e0262b"/>
<circle cx="596.8" cy="723.9" r="1.6" fill="#e0262b"/>
<circle cx="577.5" cy="733.4" r="1.6" fill="#e0262b"/>
<circle cx="579.5" cy="734.7" r="1.6" fill="#e0262b"/>
<circle cx="609.8" cy="716.2" r="1.6" fill="#e0262b"/>
<circle cx="603.0" cy="718.9" r="1.6" fill="#e0262b"/>
<circle cx="576.8" cy="736.0" r="1.6" fill="#e0262b"/>
<circle cx="597.7" cy="722.3" r="1.6" fill="#e0262b"/>
<circle cx="582.7" cy="733.2" r="1.6" fill="#e0262b"/>
<circle cx="589.3" cy="728.8" r="1.6" fill="#e0262b"/>
<circle cx="574.1" cy="738.6" r="1.6" fill="#e0262b"/>
<circle cx="574.3" cy="739.0" r="1.6" fill="#e0262b"/>
<circle cx="607.9" cy="716.6" r="1.6" fill="#e0262b"/>
<circle cx="576.2" cy="736.7" r="1.6" fill="#e0262b"/>
<circle cx="583.1" cy="731.8" r="1.6" fill="#e0262b"/>
<circle cx="595.8" cy="724.9" r="1.6" fill="#e0262b"/>
<circle cx="592.5" cy="726.4" r="1.6" fill="#e0262b"/>
<circle cx="580.5" cy="734.0" r="1.6" fill="#e0262b"/>
<circle cx="584.1" cy="732.6" r="1.6" fill="#e0262b"/>
<circle cx="582.8" cy="733.0" r="1.6" fill="#e0262b"/>
<circle cx="608.5" cy="716.2" r="1.6" fill="#e0262b"/>
<circle cx="588.9" cy="728.5" r="1.6" fill="#e0262b"/>
<circle cx="613.9" cy="711.3" r="1.6" fill="#e0262b"/>
<circle cx="575.2" cy="736.2" r="1.6" fill="#e0262b"/>
<circle cx="582.0" cy="733.6" r="1.6" fill="#e0262b"/>
<circle cx="604.0" cy="719.8" r="1.6" fill="#e0262b"/>
<circle cx="591.1" cy="727.8" r="1.6" fill="#e0262b"/>
<circle cx="609.5" cy="715.1" r="1.6" fill="#e0262b"/>
<circle cx="602.6" cy="720.3" r="1.6" fill="#e0262b"/>
<circle cx="575.5" cy="737.1" r="1.6" fill="#e0262b"/>
<circle cx="578.7" cy="734.2" r="1.6" fill="#e0262b"/>
<circle cx="604.1" cy="719.6" r="1.6" fill="#e0262b"/>
<circle cx="586.4" cy="730.8" r="1.6" fill="#e0262b"/>
<circle cx="603.9" cy="718.1" r="1.6" fill="#e0262b"/>
<circle cx="573.3" cy="737.7" r="1.6" fill="#e0262b"/>
<circle cx="607.4" cy="717.0" r="1.6" fill="#e0262b"/>
<circle cx="577.0" cy="736.0" r="1.6" fill="#e0262b"/>
<circle cx="573.1" cy="738.7" r="1.6" fill="#e0262b"/>
<circle cx="599.6" cy="720.9" r="1.6" fill="#e0262b"/>
<circle cx="582.6" cy="732.2" r="1.6" fill="#e0262b"/>
<circle cx="607.3" cy="716.2" r="1.6" fill="#e0262b"/>
<circle cx="590.0" cy="728.9" r="1.6" fill="#e0262b"/>
<circle cx="579.4" cy="735.3" r="1.6" fill="#e0262b"/>
<circle cx="580.2" cy="735.0" r="1.6" fill="#e0262b"/>
<circle cx="578.7" cy="734.6" r="1.6" fill="#e0262b"/>
<circle cx="592.6" cy="726.8" r="1.6" fill="#e0262b"/>
<circle cx="600.3" cy="721.9" r="1.6" fill="#e0262b"/>
<circle cx="589.3" cy="729.0" r="1.6" fill="#e0262b"/>
<circle cx="576.9" cy="735.0" r="1.6" fill="#e0262b"/>
<circle cx="576.2" cy="736.5" r="1.6" fill="#e0262b"/>
<circle cx="611.4" cy="714.8" r="1.6" fill="#e0262b"/>
<circle cx="605.4" cy="718.9" r="1.6" fill="#e0262b"/>
<circle cx="583.1" cy="733.0" r="1.6" fill="#e0262b"/>
<circle cx="588.0" cy="730.6" r="1.6" fill="#e0262b"/>
<circle cx="605.8" cy="717.3" r="1.6" fill="#e0262b"/>
<circle cx="612.1" cy="714.0" r="1.6" fill="#e0262b"/>
<circle cx="584.7" cy="731.7" r="1.6" fill="#e0262b"/>
<circle cx="587.1" cy="730.9" r="1.6" fill="#e0262b"/>
<circle cx="603.5" cy="719.0" r="1.6" fill="#e0262b"/>
<circle cx="604.9" cy="718.6" r="1.6" fill="#e0262b"/>
<circle cx="580.9" cy="733.8" r="1.6" fill="#e0262b"/>
<circle cx="592.3" cy="726.8" r="1.6" fill="#e0262b"/>
<circle cx="587.7" cy="729.5" r="1.6" fill="#e0262b"/>
<circle cx="582.0" cy="732.4" r="1.6" fill="#e0262b"/>
<circle cx="590.0" cy="728.4" r="1.6" fill="#e0262b"/>
<circle cx="591.5" cy="727.4" r="1.6" fill="#e0262b"/>
<circle cx="586.3" cy="731.1" r="1.6" fill="#e0262b"/>
<circle cx="574.4" cy="737.0" r="1.6" fill="#e0262b"/>
<circle cx="596.3" cy="724.4" r="1.6" fill="#e0262b"/>
<circle cx="587.7" cy="728.9" r="1.6" fill="#e0262b"/>
<circle cx="580.0" cy="735.1" r="1.6" fill="#e0262b"/>
<circle cx="585.1" cy="731.1" r="1.6" fill="#e0262b"/>
<circle cx="580.5" cy="733.8" r="1.6" fill="#e0262b"/>
<circle cx="581.8" cy="733.9" r="1.6" fill="#e0262b"/>
<circle cx="574.5" cy="737.2" r="1.6" fill="#e0262b"/>
<circle cx="574.2" cy="737.6" r="1.6" fill="#e0262b"/>
<circle cx="579.1" cy="733.6" r="1.6" fill="#e0262b"/>
<circle cx="576.9" cy="735.7" r="1.6" fill="#e0262b"/>
<circle cx="605.8" cy="717.3" r="1.6" fill="#e0262b"/>
<circle cx="600.8" cy="719.4" r="1.6" fill="#e0262b"/>
<circle cx="599.5" cy="722.0" r="1.6" fill="#e0262b"/>
<circle cx="608.1" cy="717.1" r="1.6" fill="#e0262b"/>
<circle cx="611.8" cy="713.4" r="1.6" fill="#e0262b"/>
<circle cx="603.4" cy="719.0" r="1.6" fill="#e0262b"/>
<circle cx="588.5" cy="729.3" r="1.6" fill="#e0262b"/>
<circle cx="585.0" cy="730.8" r="1.6" fill="#e0262b"/>
<circle cx="606.9" cy="717.1" r="1.6" fill="#e0262b"/>
<circle cx="577.9" cy="735.2" r="1.6" fill="#e0262b"/>
<circle cx="575.0" cy="737.0" r="1.6" fill="#e0262b"/>
<circle cx="606.5" cy="716.4" r="1.6" fill="#e0262b"/>
<circle cx="609.8" cy="715.9" r="1.6" fill="#e0262b"/>
<circle cx="591.8" cy="726.8" r="1.6" fill="#e0262b"/>
<circle cx="613.4" cy="712.1" r="1.6" fill="#e0262b"/>
<circle cx="598.0" cy="722.4" r="1.6" fill="#e0262b"/>
<circle cx="611.1" cy="714.1" r="1.6" fill="#e0262b"/>
<circle cx="575.2" cy="736.6" r="1.6" fill="#e0262b"/>
<circle cx="607.6" cy="716.0" r="1.6" fill="#e0262b"/>
<circle cx="586.4" cy="727.6" r="1.6" fill="#e0262b"/>
<circle cx="605.0" cy="719.1" r="1.6" fill="#e0262b"/>
<circle cx="613.1" cy="713.5" r="1.6" fill="#e0262b"/>
<circle cx="599.1" cy="720.9" r="1.6" fill="#e0262b"/>
<circle cx="608.0" cy="716.6" r="1.6" fill="#e0262b"/>
<circle cx="590.6" cy="728.4" r="1.6" fill="#e0262b"/>
<circle cx="595.4" cy="724.8" r="1.6" fill="#e0262b"/>
<circle cx="574.1" cy="737.4" r="1.6" fill="#e0262b"/>
<circle cx="582.2" cy="733.2" r="1.6" fill="#e0262b"/>
<circle cx="594.5" cy="725.6" r="1.6" fill="#e0262b"/>
<circle cx="589.5" cy="728.1" r="1.6" fill="#e0262b"/>
<circle cx="613.4" cy="712.3" r="1.6" fill="#e0262b"/>
<circle cx="576.5" cy="736.1" r="1.6" fill="#e0262b"/>
<circle cx="577.7" cy="734.5" r="1.6" fill="#e0262b"/>
<circle cx="595.0" cy="725.7" r="1.6" fill="#e0262b"/>
<circle cx="582.9" cy="732.6" r="1.6" fill="#e0262b"/>
<circle cx="577.5" cy="736.4" r="1.6" fill="#e0262b"/>
<circle cx="583.5" cy="731.6" r="1.6" fill="#e0262b"/>
<circle cx="574.9" cy="737.9" r="1.6" fill="#e0262b"/>
<circle cx="595.1" cy="725.3" r="1.6" fill="#e0262b"/>
<circle cx="610.6" cy="715.4" r="1.6" fill="#e0262b"/>
<circle cx="581.6" cy="731.0" r="1.6" fill="#e0262b"/>
<circle cx="590.1" cy="728.0" r="1.6" fill="#e0262b"/>
<circle cx="579.6" cy="735.3" r="1.6" fill="#e0262b"/>
<circle cx="589.4" cy="728.4" r="1.6" fill="#e0262b"/>
<circle cx="578.4" cy="735.2" r="1.6" fill="#e0262b"/>
<circle cx="593.0" cy="725.8" r="1.6" fill="#e0262b"/>
<circle cx="575.0" cy="737.4" r="1.6" fill="#e0262b"/>
<circle cx="583.9" cy="731.7" r="1.6" fill="#e0262b"/>
<circle cx="574.3" cy="737.9" r="1.6" fill="#e0262b"/>
<circle cx="577.1" cy="736.2" r="1.6" fill="#e0262b"/>
<circle cx="577.1" cy="735.7" r="1.6" fill="#e0262b"/>
<circle cx="604.3" cy="718.8" r="1.6" fill="#e0262b"/>
<circle cx="611.4" cy="714.9" r="1.6" fill="#e0262b"/>
<circle cx="590.2" cy="727.7" r="1.6" fill="#e0262b"/>
<circle cx="572.9" cy="739.1" r="1.6" fill="#e0262b"/>
<circle cx="574.1" cy="734.6" r="1.6" fill="#e0262b"/>
<circle cx="572.9" cy="736.7" r="1.6" fill="#e0262b"/>
<circle cx="572.7" cy="738.9" r="1.6" fill="#e0262b"/>
<circle cx="572.4" cy="735.9" r="1.6" fill="#e0262b"/>
<circle cx="573.9" cy="733.8" r="1.6" fill="#e0262b"/>
<circle cx="574.7" cy="734.8" r="1.6" fill="#e0262b"/>
<circle cx="574.3" cy="736.3" r="1.6" fill="#e0262b"/>
<circle cx="573.1" cy="734.8" r="1.6" fill="#e0262b"/>
<circle cx="572.3" cy="733.0" r="1.6" fill="#e0262b"/>
<circle cx="575.0" cy="734.2" r="1.6" fill="#e0262b"/>
<circle cx="574.3" cy="732.4" r="1.6" fill="#e0262b"/>
<circle cx="574.0" cy="734.6" r="1.6" fill="#e0262b"/>
<circle cx="573.8" cy="734.0" r="1.6" fill="#e0262b"/>
<circle cx="573.5" cy="735.9" r="1.6" fill="#e0262b"/>
<circle cx="574.6" cy="734.8" r="1.6" fill="#e0262b"/>
<circle cx="578.0" cy="735.7" r="1.6" fill="#e0262b"/>
<circle cx="575.8" cy="739.5" r="1.6" fill="#e0262b"/>
<circle cx="578.4" cy="739.3" r="1.6" fill="#e0262b"/>
<circle cx="579.0" cy="734.8" r="1.6" fill="#e0262b"/>
<circle cx="574.9" cy="734.2" r="1.6" fill="#e0262b"/>
<circle cx="577.8" cy="738.0" r="1.6" fill="#e0262b"/>
<circle cx="575.5" cy="736.5" r="1.6" fill="#e0262b"/>
<circle cx="577.6" cy="738.2" r="1.6" fill="#e0262b"/>
<circle cx="574.7" cy="739.1" r="1.6" fill="#e0262b"/>
<circle cx="575.5" cy="737.8" r="1.6" fill="#e0262b"/>
<circle cx="578.5" cy="740.5" r="1.6" fill="#e0262b"/>
<circle cx="581.0" cy="740.5" r="1.6" fill="#e0262b"/>
<line x1="573.00" y1="739.80" x2="666.40" y2="681.30" stroke="#000" stroke-width="2.0" stroke-linecap="butt"/>
<text x="124.20" y="859.50" font-size="15" font-weight="bold" font-family="'Liberation Serif', serif" fill="#000" textLength="4.90" lengthAdjust="spacingAndGlyphs">I</text>
<text x="345.40" y="856.50" font-size="15.5" font-weight="bold" font-family="'Liberation Serif', serif" fill="#000" textLength="6.00" lengthAdjust="spacingAndGlyphs">J</text>
<line x1="180.60" y1="865.30" x2="189.10" y2="865.30" stroke="#000" stroke-width="2.6" stroke-linecap="butt"/>
<line x1="183.10" y1="872.95" x2="189.10" y2="872.95" stroke="#000" stroke-width="2.4" stroke-linecap="butt"/>
<line x1="183.10" y1="880.61" x2="189.10" y2="880.61" stroke="#000" stroke-width="2.4" stroke-linecap="butt"/>
<line x1="183.10" y1="888.26" x2="189.10" y2="888.26" stroke="#000" stroke-width="2.4" stroke-linecap="butt"/>
<line x1="183.10" y1="895.92" x2="189.10" y2="895.92" stroke="#000" stroke-width="2.4" stroke-linecap="butt"/>
<line x1="183.10" y1="903.57" x2="189.10" y2="903.57" stroke="#000" stroke-width="2.4" stroke-linecap="butt"/>
<line x1="183.10" y1="911.23" x2="189.10" y2="911.23" stroke="#000" stroke-width="2.4" stroke-linecap="butt"/>
<line x1="183.10" y1="918.88" x2="189.10" y2="918.88" stroke="#000" stroke-width="2.4" stroke-linecap="butt"/>
<line x1="183.10" y1="926.54" x2="189.10" y2="926.54" stroke="#000" stroke-width="2.4" stroke-linecap="butt"/>
<line x1="183.10" y1="934.19" x2="189.10" y2="934.19" stroke="#000" stroke-width="2.4" stroke-linecap="butt"/>
<line x1="180.60" y1="941.85" x2="189.10" y2="941.85" stroke="#000" stroke-width="2.6" stroke-linecap="butt"/>
<line x1="183.10" y1="949.50" x2="189.10" y2="949.50" stroke="#000" stroke-width="2.4" stroke-linecap="butt"/>
<line x1="183.10" y1="957.16" x2="189.10" y2="957.16" stroke="#000" stroke-width="2.4" stroke-linecap="butt"/>
<line x1="183.10" y1="964.81" x2="189.10" y2="964.81" stroke="#000" stroke-width="2.4" stroke-linecap="butt"/>
<line x1="183.10" y1="972.47" x2="189.10" y2="972.47" stroke="#000" stroke-width="2.4" stroke-linecap="butt"/>
<line x1="183.10" y1="980.12" x2="189.10" y2="980.12" stroke="#000" stroke-width="2.4" stroke-linecap="butt"/>
<line x1="183.10" y1="987.78" x2="189.10" y2="987.78" stroke="#000" stroke-width="2.4" stroke-linecap="butt"/>
<line x1="183.10" y1="995.43" x2="189.10" y2="995.43" stroke="#000" stroke-width="2.4" stroke-linecap="butt"/>
<line x1="183.10" y1="1003.09" x2="189.10" y2="1003.09" stroke="#000" stroke-width="2.4" stroke-linecap="butt"/>
<line x1="183.10" y1="1010.75" x2="189.10" y2="1010.75" stroke="#000" stroke-width="2.4" stroke-linecap="butt"/>
<line x1="180.60" y1="1018.40" x2="189.10" y2="1018.40" stroke="#000" stroke-width="2.6" stroke-linecap="butt"/>
<line x1="187.60" y1="864.00" x2="187.60" y2="1019.60" stroke="#000" stroke-width="3.0" stroke-linecap="butt"/>
<line x1="180.60" y1="1018.40" x2="302.60" y2="1018.40" stroke="#000" stroke-width="2.6" stroke-linecap="butt"/>
<line x1="220.60" y1="1018.40" x2="220.60" y2="1025.60" stroke="#000" stroke-width="2.6" stroke-linecap="butt"/>
<line x1="269.60" y1="1018.40" x2="269.60" y2="1025.60" stroke="#000" stroke-width="2.6" stroke-linecap="butt"/>
<text x="164.10" y="869.50" font-size="11.5" font-weight="bold" font-family="'Liberation Sans', Arial, sans-serif" fill="#111" textLength="15.20" lengthAdjust="spacingAndGlyphs">1.0</text>
<text x="164.10" y="945.80" font-size="11.5" font-weight="bold" font-family="'Liberation Sans', Arial, sans-serif" fill="#111" textLength="15.20" lengthAdjust="spacingAndGlyphs">0.5</text>
<text x="164.10" y="1022.60" font-size="11.5" font-weight="bold" font-family="'Liberation Sans', Arial, sans-serif" fill="#111" textLength="15.20" lengthAdjust="spacingAndGlyphs">0.0</text>
<text transform="translate(151.60,950.60) rotate(-90)" x="0" y="0" font-size="11.8" font-weight="bold" font-family="'Liberation Sans', Arial, sans-serif" fill="#111" textLength="17.60" lengthAdjust="spacingAndGlyphs">CV</text>
<text x="203.20" y="1036.30" font-size="11.5" font-weight="bold" font-family="'Liberation Sans', Arial, sans-serif" fill="#111" textLength="31.20" lengthAdjust="spacingAndGlyphs">micro</text>
<text x="256.20" y="1036.30" font-size="11.5" font-weight="bold" font-family="'Liberation Sans', Arial, sans-serif" fill="#111" textLength="26.80" lengthAdjust="spacingAndGlyphs">nano</text>
<path d="M221.2,876.6 L221.2,865.1 L266.9,865.1 L266.9,876.6" fill="none" stroke="#000" stroke-width="4.4" stroke-linecap="round" stroke-linejoin="miter"/>
<text x="234.20" y="858.80" font-size="11" font-weight="normal" font-family="'Liberation Sans', Arial, sans-serif" fill="#333" textLength="19.80" lengthAdjust="spacingAndGlyphs" stroke="#333" stroke-width="0.15">****</text>
<circle cx="220.6" cy="884.0" r="1.55" fill="#3351b3"/>
<circle cx="220.6" cy="910.1" r="1.55" fill="#3351b3"/>
<circle cx="220.6" cy="912.0" r="1.55" fill="#3351b3"/>
<circle cx="220.6" cy="914.4" r="1.55" fill="#3351b3"/>
<circle cx="220.6" cy="919.1" r="1.55" fill="#3351b3"/>
<circle cx="220.6" cy="935.4" r="1.55" fill="#3351b3"/>
<circle cx="220.6" cy="938.9" r="1.55" fill="#3351b3"/>
<circle cx="220.6" cy="942.4" r="1.55" fill="#3351b3"/>
<circle cx="220.6" cy="954.6" r="1.55" fill="#3351b3"/>
<circle cx="220.6" cy="955.5" r="1.55" fill="#3351b3"/>
<circle cx="220.6" cy="960.6" r="1.55" fill="#3351b3"/>
<circle cx="220.6" cy="969.0" r="1.55" fill="#3351b3"/>
<circle cx="220.6" cy="981.6" r="1.55" fill="#3351b3"/>
<circle cx="220.6" cy="993.8" r="1.55" fill="#3351b3"/>
<circle cx="269.6" cy="898.0" r="1.55" fill="#e91d2e"/>
<circle cx="269.6" cy="912.8" r="1.55" fill="#e91d2e"/>
<circle cx="269.6" cy="913.9" r="1.55" fill="#e91d2e"/>
<circle cx="269.6" cy="930.2" r="1.55" fill="#e91d2e"/>
<circle cx="269.6" cy="932.6" r="1.55" fill="#e91d2e"/>
<circle cx="269.6" cy="943.6" r="1.55" fill="#e91d2e"/>
<circle cx="269.6" cy="947.9" r="1.55" fill="#e91d2e"/>
<circle cx="269.6" cy="951.1" r="1.55" fill="#e91d2e"/>
<circle cx="269.6" cy="956.6" r="1.55" fill="#e91d2e"/>
<circle cx="269.6" cy="963.7" r="1.55" fill="#e91d2e"/>
<circle cx="269.6" cy="965.3" r="1.55" fill="#e91d2e"/>
<circle cx="269.6" cy="968.5" r="1.55" fill="#e91d2e"/>
<circle cx="269.6" cy="981.2" r="1.55" fill="#e91d2e"/>
<circle cx="218.9" cy="997.8" r="1.6" fill="#3351b3"/>
<circle cx="221.5" cy="998.1" r="1.6" fill="#3351b3"/>
<circle cx="214.2" cy="999.6" r="1.6" fill="#3351b3"/>
<circle cx="216.0" cy="999.7" r="1.6" fill="#3351b3"/>
<circle cx="218.3" cy="999.8" r="1.6" fill="#3351b3"/>
<circle cx="220.6" cy="999.6" r="1.6" fill="#3351b3"/>
<circle cx="222.8" cy="1000.0" r="1.6" fill="#3351b3"/>
<circle cx="224.9" cy="1000.1" r="1.6" fill="#3351b3"/>
<circle cx="227.3" cy="1000.0" r="1.6" fill="#3351b3"/>
<circle cx="208.9" cy="1001.7" r="1.6" fill="#3351b3"/>
<circle cx="211.4" cy="1001.6" r="1.6" fill="#3351b3"/>
<circle cx="213.2" cy="1001.9" r="1.6" fill="#3351b3"/>
<circle cx="215.8" cy="1001.6" r="1.6" fill="#3351b3"/>
<circle cx="217.6" cy="1002.0" r="1.6" fill="#3351b3"/>
<circle cx="220.1" cy="1001.5" r="1.6" fill="#3351b3"/>
<circle cx="222.1" cy="1001.5" r="1.6" fill="#3351b3"/>
<circle cx="224.7" cy="1001.6" r="1.6" fill="#3351b3"/>
<circle cx="226.9" cy="1001.9" r="1.6" fill="#3351b3"/>
<circle cx="228.6" cy="1001.9" r="1.6" fill="#3351b3"/>
<circle cx="231.0" cy="1001.9" r="1.6" fill="#3351b3"/>
<circle cx="208.2" cy="1003.5" r="1.6" fill="#3351b3"/>
<circle cx="209.9" cy="1003.9" r="1.6" fill="#3351b3"/>
<circle cx="212.3" cy="1003.9" r="1.6" fill="#3351b3"/>
<circle cx="214.7" cy="1003.8" r="1.6" fill="#3351b3"/>
<circle cx="217.0" cy="1003.7" r="1.6" fill="#3351b3"/>
<circle cx="219.0" cy="1003.3" r="1.6" fill="#3351b3"/>
<circle cx="221.3" cy="1003.6" r="1.6" fill="#3351b3"/>
<circle cx="223.4" cy="1003.9" r="1.6" fill="#3351b3"/>
<circle cx="225.4" cy="1003.8" r="1.6" fill="#3351b3"/>
<circle cx="227.5" cy="1003.7" r="1.6" fill="#3351b3"/>
<circle cx="230.2" cy="1003.5" r="1.6" fill="#3351b3"/>
<circle cx="232.2" cy="1003.9" r="1.6" fill="#3351b3"/>
<circle cx="206.3" cy="1005.5" r="1.6" fill="#3351b3"/>
<circle cx="208.3" cy="1005.2" r="1.6" fill="#3351b3"/>
<circle cx="210.5" cy="1005.4" r="1.6" fill="#3351b3"/>
<circle cx="212.6" cy="1005.4" r="1.6" fill="#3351b3"/>
<circle cx="214.8" cy="1005.6" r="1.6" fill="#3351b3"/>
<circle cx="217.3" cy="1005.3" r="1.6" fill="#3351b3"/>
<circle cx="219.3" cy="1005.5" r="1.6" fill="#3351b3"/>
<circle cx="221.6" cy="1005.7" r="1.6" fill="#3351b3"/>
<circle cx="223.7" cy="1005.4" r="1.6" fill="#3351b3"/>
<circle cx="226.3" cy="1005.3" r="1.6" fill="#3351b3"/>
<circle cx="228.3" cy="1005.4" r="1.6" fill="#3351b3"/>
<circle cx="230.6" cy="1005.5" r="1.6" fill="#3351b3"/>
<circle cx="232.8" cy="1005.3" r="1.6" fill="#3351b3"/>
<circle cx="234.9" cy="1005.5" r="1.6" fill="#3351b3"/>
<circle cx="207.9" cy="1007.5" r="1.6" fill="#3351b3"/>
<circle cx="210.3" cy="1007.1" r="1.6" fill="#3351b3"/>
<circle cx="212.2" cy="1007.3" r="1.6" fill="#3351b3"/>
<circle cx="214.4" cy="1007.1" r="1.6" fill="#3351b3"/>
<circle cx="216.6" cy="1007.2" r="1.6" fill="#3351b3"/>
<circle cx="219.1" cy="1007.3" r="1.6" fill="#3351b3"/>
<circle cx="220.9" cy="1007.2" r="1.6" fill="#3351b3"/>
<circle cx="223.3" cy="1007.3" r="1.6" fill="#3351b3"/>
<circle cx="225.3" cy="1007.1" r="1.6" fill="#3351b3"/>
<circle cx="227.4" cy="1007.6" r="1.6" fill="#3351b3"/>
<circle cx="230.1" cy="1007.1" r="1.6" fill="#3351b3"/>
<circle cx="232.3" cy="1007.6" r="1.6" fill="#3351b3"/>
<circle cx="234.4" cy="1007.1" r="1.6" fill="#3351b3"/>
<circle cx="208.3" cy="1009.2" r="1.6" fill="#3351b3"/>
<circle cx="210.3" cy="1009.2" r="1.6" fill="#3351b3"/>
<circle cx="212.4" cy="1009.5" r="1.6" fill="#3351b3"/>
<circle cx="215.0" cy="1009.3" r="1.6" fill="#3351b3"/>
<circle cx="217.3" cy="1009.3" r="1.6" fill="#3351b3"/>
<circle cx="219.1" cy="1009.1" r="1.6" fill="#3351b3"/>
<circle cx="221.3" cy="1008.9" r="1.6" fill="#3351b3"/>
<circle cx="223.8" cy="1009.4" r="1.6" fill="#3351b3"/>
<circle cx="225.8" cy="1009.0" r="1.6" fill="#3351b3"/>
<circle cx="228.2" cy="1009.4" r="1.6" fill="#3351b3"/>
<circle cx="230.5" cy="1009.0" r="1.6" fill="#3351b3"/>
<circle cx="232.7" cy="1009.4" r="1.6" fill="#3351b3"/>
<circle cx="211.4" cy="1011.0" r="1.6" fill="#3351b3"/>
<circle cx="213.3" cy="1011.3" r="1.6" fill="#3351b3"/>
<circle cx="215.5" cy="1011.0" r="1.6" fill="#3351b3"/>
<circle cx="217.9" cy="1011.0" r="1.6" fill="#3351b3"/>
<circle cx="220.2" cy="1010.9" r="1.6" fill="#3351b3"/>
<circle cx="222.0" cy="1011.1" r="1.6" fill="#3351b3"/>
<circle cx="224.5" cy="1011.3" r="1.6" fill="#3351b3"/>
<circle cx="226.8" cy="1011.3" r="1.6" fill="#3351b3"/>
<circle cx="229.1" cy="1011.1" r="1.6" fill="#3351b3"/>
<circle cx="231.0" cy="1010.9" r="1.6" fill="#3351b3"/>
<circle cx="211.9" cy="1013.0" r="1.6" fill="#3351b3"/>
<circle cx="214.0" cy="1013.1" r="1.6" fill="#3351b3"/>
<circle cx="216.2" cy="1012.9" r="1.6" fill="#3351b3"/>
<circle cx="218.9" cy="1012.7" r="1.6" fill="#3351b3"/>
<circle cx="220.5" cy="1012.9" r="1.6" fill="#3351b3"/>
<circle cx="222.8" cy="1013.1" r="1.6" fill="#3351b3"/>
<circle cx="224.9" cy="1013.2" r="1.6" fill="#3351b3"/>
<circle cx="227.6" cy="1013.1" r="1.6" fill="#3351b3"/>
<circle cx="214.6" cy="1014.7" r="1.6" fill="#3351b3"/>
<circle cx="216.9" cy="1014.8" r="1.6" fill="#3351b3"/>
<circle cx="219.0" cy="1014.7" r="1.6" fill="#3351b3"/>
<circle cx="221.2" cy="1014.9" r="1.6" fill="#3351b3"/>
<circle cx="223.6" cy="1015.1" r="1.6" fill="#3351b3"/>
<circle cx="225.4" cy="1014.7" r="1.6" fill="#3351b3"/>
<circle cx="214.6" cy="1016.7" r="1.6" fill="#3351b3"/>
<circle cx="216.7" cy="1016.5" r="1.6" fill="#3351b3"/>
<circle cx="218.8" cy="1016.6" r="1.6" fill="#3351b3"/>
<circle cx="221.2" cy="1017.0" r="1.6" fill="#3351b3"/>
<circle cx="223.6" cy="1016.9" r="1.6" fill="#3351b3"/>
<circle cx="225.9" cy="1017.0" r="1.6" fill="#3351b3"/>
<circle cx="260.6" cy="1007.7" r="1.6" fill="#e91d2e"/>
<circle cx="262.5" cy="1007.6" r="1.6" fill="#e91d2e"/>
<circle cx="265.0" cy="1007.4" r="1.6" fill="#e91d2e"/>
<circle cx="267.2" cy="1007.8" r="1.6" fill="#e91d2e"/>
<circle cx="269.3" cy="1007.6" r="1.6" fill="#e91d2e"/>
<circle cx="271.4" cy="1007.4" r="1.6" fill="#e91d2e"/>
<circle cx="274.0" cy="1007.2" r="1.6" fill="#e91d2e"/>
<circle cx="275.8" cy="1007.6" r="1.6" fill="#e91d2e"/>
<circle cx="278.1" cy="1007.3" r="1.6" fill="#e91d2e"/>
<circle cx="256.5" cy="1009.3" r="1.6" fill="#e91d2e"/>
<circle cx="258.7" cy="1009.3" r="1.6" fill="#e91d2e"/>
<circle cx="260.9" cy="1009.4" r="1.6" fill="#e91d2e"/>
<circle cx="263.0" cy="1009.1" r="1.6" fill="#e91d2e"/>
<circle cx="265.1" cy="1009.6" r="1.6" fill="#e91d2e"/>
<circle cx="267.5" cy="1009.1" r="1.6" fill="#e91d2e"/>
<circle cx="269.9" cy="1009.2" r="1.6" fill="#e91d2e"/>
<circle cx="271.6" cy="1009.4" r="1.6" fill="#e91d2e"/>
<circle cx="273.9" cy="1009.4" r="1.6" fill="#e91d2e"/>
<circle cx="276.3" cy="1009.2" r="1.6" fill="#e91d2e"/>
<circle cx="278.5" cy="1009.1" r="1.6" fill="#e91d2e"/>
<circle cx="280.7" cy="1009.4" r="1.6" fill="#e91d2e"/>
<circle cx="282.6" cy="1009.3" r="1.6" fill="#e91d2e"/>
<circle cx="254.6" cy="1011.2" r="1.6" fill="#e91d2e"/>
<circle cx="257.2" cy="1011.3" r="1.6" fill="#e91d2e"/>
<circle cx="259.4" cy="1011.4" r="1.6" fill="#e91d2e"/>
<circle cx="261.2" cy="1011.5" r="1.6" fill="#e91d2e"/>
<circle cx="263.8" cy="1011.0" r="1.6" fill="#e91d2e"/>
<circle cx="266.0" cy="1011.2" r="1.6" fill="#e91d2e"/>
<circle cx="267.8" cy="1011.5" r="1.6" fill="#e91d2e"/>
<circle cx="270.3" cy="1011.4" r="1.6" fill="#e91d2e"/>
<circle cx="272.2" cy="1011.4" r="1.6" fill="#e91d2e"/>
<circle cx="274.4" cy="1011.1" r="1.6" fill="#e91d2e"/>
<circle cx="276.8" cy="1010.9" r="1.6" fill="#e91d2e"/>
<circle cx="279.1" cy="1011.1" r="1.6" fill="#e91d2e"/>
<circle cx="281.1" cy="1011.4" r="1.6" fill="#e91d2e"/>
<circle cx="283.4" cy="1011.5" r="1.6" fill="#e91d2e"/>
<circle cx="256.5" cy="1013.3" r="1.6" fill="#e91d2e"/>
<circle cx="258.7" cy="1013.4" r="1.6" fill="#e91d2e"/>
<circle cx="261.1" cy="1012.9" r="1.6" fill="#e91d2e"/>
<circle cx="263.2" cy="1013.0" r="1.6" fill="#e91d2e"/>
<circle cx="265.4" cy="1013.2" r="1.6" fill="#e91d2e"/>
<circle cx="267.7" cy="1012.9" r="1.6" fill="#e91d2e"/>
<circle cx="269.6" cy="1013.3" r="1.6" fill="#e91d2e"/>
<circle cx="272.1" cy="1013.2" r="1.6" fill="#e91d2e"/>
<circle cx="273.8" cy="1013.2" r="1.6" fill="#e91d2e"/>
<circle cx="276.0" cy="1013.1" r="1.6" fill="#e91d2e"/>
<circle cx="278.6" cy="1012.9" r="1.6" fill="#e91d2e"/>
<circle cx="280.9" cy="1013.2" r="1.6" fill="#e91d2e"/>
<circle cx="282.7" cy="1012.9" r="1.6" fill="#e91d2e"/>
<circle cx="256.1" cy="1015.2" r="1.6" fill="#e91d2e"/>
<circle cx="258.4" cy="1014.7" r="1.6" fill="#e91d2e"/>
<circle cx="260.2" cy="1014.7" r="1.6" fill="#e91d2e"/>
<circle cx="262.9" cy="1014.8" r="1.6" fill="#e91d2e"/>
<circle cx="264.9" cy="1014.9" r="1.6" fill="#e91d2e"/>
<circle cx="267.2" cy="1014.9" r="1.6" fill="#e91d2e"/>
<circle cx="269.1" cy="1015.2" r="1.6" fill="#e91d2e"/>
<circle cx="271.5" cy="1015.1" r="1.6" fill="#e91d2e"/>
<circle cx="273.9" cy="1015.2" r="1.6" fill="#e91d2e"/>
<circle cx="275.6" cy="1014.9" r="1.6" fill="#e91d2e"/>
<circle cx="277.9" cy="1015.0" r="1.6" fill="#e91d2e"/>
<circle cx="280.5" cy="1015.2" r="1.6" fill="#e91d2e"/>
<circle cx="282.2" cy="1014.8" r="1.6" fill="#e91d2e"/>
<circle cx="258.8" cy="1017.0" r="1.6" fill="#e91d2e"/>
<circle cx="260.7" cy="1016.8" r="1.6" fill="#e91d2e"/>
<circle cx="262.8" cy="1017.1" r="1.6" fill="#e91d2e"/>
<circle cx="265.1" cy="1017.1" r="1.6" fill="#e91d2e"/>
<circle cx="267.4" cy="1016.6" r="1.6" fill="#e91d2e"/>
<circle cx="269.5" cy="1016.7" r="1.6" fill="#e91d2e"/>
<circle cx="272.0" cy="1016.9" r="1.6" fill="#e91d2e"/>
<circle cx="273.7" cy="1016.7" r="1.6" fill="#e91d2e"/>
<circle cx="276.1" cy="1016.8" r="1.6" fill="#e91d2e"/>
<circle cx="278.4" cy="1016.8" r="1.6" fill="#e91d2e"/>
<circle cx="280.5" cy="1016.6" r="1.6" fill="#e91d2e"/>
<line x1="269.60" y1="990.00" x2="269.60" y2="1007.00" stroke="#e91d2e" stroke-width="2.6" stroke-linecap="round"/>
<line x1="220.60" y1="996.50" x2="220.60" y2="1000.00" stroke="#3351b3" stroke-width="2.6" stroke-linecap="round"/>
<line x1="497.40" y1="865.90" x2="505.90" y2="865.90" stroke="#000" stroke-width="2.6" stroke-linecap="butt"/>
<line x1="499.90" y1="873.57" x2="505.90" y2="873.57" stroke="#000" stroke-width="2.4" stroke-linecap="butt"/>
<line x1="499.90" y1="881.25" x2="505.90" y2="881.25" stroke="#000" stroke-width="2.4" stroke-linecap="butt"/>
<line x1="499.90" y1="888.92" x2="505.90" y2="888.92" stroke="#000" stroke-width="2.4" stroke-linecap="butt"/>
<line x1="499.90" y1="896.60" x2="505.90" y2="896.60" stroke="#000" stroke-width="2.4" stroke-linecap="butt"/>
<line x1="499.90" y1="904.27" x2="505.90" y2="904.27" stroke="#000" stroke-width="2.4" stroke-linecap="butt"/>
<line x1="499.90" y1="911.95" x2="505.90" y2="911.95" stroke="#000" stroke-width="2.4" stroke-linecap="butt"/>
<line x1="499.90" y1="919.62" x2="505.90" y2="919.62" stroke="#000" stroke-width="2.4" stroke-linecap="butt"/>
<line x1="499.90" y1="927.30" x2="505.90" y2="927.30" stroke="#000" stroke-width="2.4" stroke-linecap="butt"/>
<line x1="499.90" y1="934.98" x2="505.90" y2="934.98" stroke="#000" stroke-width="2.4" stroke-linecap="butt"/>
<line x1="497.40" y1="942.65" x2="505.90" y2="942.65" stroke="#000" stroke-width="2.6" stroke-linecap="butt"/>
<line x1="499.90" y1="950.32" x2="505.90" y2="950.32" stroke="#000" stroke-width="2.4" stroke-linecap="butt"/>
<line x1="499.90" y1="958.00" x2="505.90" y2="958.00" stroke="#000" stroke-width="2.4" stroke-linecap="butt"/>
<line x1="499.90" y1="965.67" x2="505.90" y2="965.67" stroke="#000" stroke-width="2.4" stroke-linecap="butt"/>
<line x1="499.90" y1="973.35" x2="505.90" y2="973.35" stroke="#000" stroke-width="2.4" stroke-linecap="butt"/>
<line x1="499.90" y1="981.02" x2="505.90" y2="981.02" stroke="#000" stroke-width="2.4" stroke-linecap="butt"/>
<line x1="499.90" y1="988.70" x2="505.90" y2="988.70" stroke="#000" stroke-width="2.4" stroke-linecap="butt"/>
<line x1="499.90" y1="996.38" x2="505.90" y2="996.38" stroke="#000" stroke-width="2.4" stroke-linecap="butt"/>
<line x1="499.90" y1="1004.05" x2="505.90" y2="1004.05" stroke="#000" stroke-width="2.4" stroke-linecap="butt"/>
<line x1="499.90" y1="1011.72" x2="505.90" y2="1011.72" stroke="#000" stroke-width="2.4" stroke-linecap="butt"/>
<line x1="497.40" y1="1019.40" x2="505.90" y2="1019.40" stroke="#000" stroke-width="2.6" stroke-linecap="butt"/>
<line x1="504.40" y1="864.60" x2="504.40" y2="1020.60" stroke="#000" stroke-width="3.0" stroke-linecap="butt"/>
<line x1="497.40" y1="1019.40" x2="619.30" y2="1019.40" stroke="#000" stroke-width="2.6" stroke-linecap="butt"/>
<line x1="536.90" y1="1019.40" x2="536.90" y2="1026.60" stroke="#000" stroke-width="2.6" stroke-linecap="butt"/>
<line x1="586.60" y1="1019.40" x2="586.60" y2="1026.60" stroke="#000" stroke-width="2.6" stroke-linecap="butt"/>
<text x="480.90" y="870.10" font-size="11.5" font-weight="bold" font-family="'Liberation Sans', Arial, sans-serif" fill="#111" textLength="15.20" lengthAdjust="spacingAndGlyphs">1.0</text>
<text x="480.90" y="947.30" font-size="11.5" font-weight="bold" font-family="'Liberation Sans', Arial, sans-serif" fill="#111" textLength="15.20" lengthAdjust="spacingAndGlyphs">0.5</text>
<text x="480.90" y="1023.60" font-size="11.5" font-weight="bold" font-family="'Liberation Sans', Arial, sans-serif" fill="#111" textLength="15.20" lengthAdjust="spacingAndGlyphs">0.0</text>
<text transform="translate(468.40,951.50) rotate(-90)" x="0" y="0" font-size="11.8" font-weight="bold" font-family="'Liberation Sans', Arial, sans-serif" fill="#111" textLength="17.90" lengthAdjust="spacingAndGlyphs">CV</text>
<text x="519.50" y="1037.50" font-size="11.5" font-weight="bold" font-family="'Liberation Sans', Arial, sans-serif" fill="#111" textLength="31.20" lengthAdjust="spacingAndGlyphs">micro</text>
<text x="573.20" y="1037.50" font-size="11.5" font-weight="bold" font-family="'Liberation Sans', Arial, sans-serif" fill="#111" textLength="26.80" lengthAdjust="spacingAndGlyphs">nano</text>
<path d="M537.5,877.2 L537.5,866.0 L583.5,866.0 L583.5,877.2" fill="none" stroke="#000" stroke-width="4.4" stroke-linecap="round" stroke-linejoin="miter"/>
<text x="551.20" y="859.30" font-size="11" font-weight="normal" font-family="'Liberation Sans', Arial, sans-serif" fill="#333" textLength="18.90" lengthAdjust="spacingAndGlyphs" stroke="#333" stroke-width="0.15">****</text>
<circle cx="536.9" cy="884.3" r="1.55" fill="#3351b3"/>
<circle cx="536.9" cy="913.0" r="1.55" fill="#3351b3"/>
<circle cx="536.9" cy="914.1" r="1.55" fill="#3351b3"/>
<circle cx="536.9" cy="915.2" r="1.55" fill="#3351b3"/>
<circle cx="536.9" cy="920.0" r="1.55" fill="#3351b3"/>
<circle cx="536.9" cy="934.2" r="1.55" fill="#3351b3"/>
<circle cx="536.9" cy="939.7" r="1.55" fill="#3351b3"/>
<circle cx="536.9" cy="940.0" r="1.55" fill="#3351b3"/>
<circle cx="536.9" cy="943.4" r="1.55" fill="#3351b3"/>
<circle cx="536.9" cy="949.7" r="1.55" fill="#3351b3"/>
<circle cx="536.9" cy="955.9" r="1.55" fill="#3351b3"/>
<circle cx="536.9" cy="956.4" r="1.55" fill="#3351b3"/>
<circle cx="536.9" cy="965.9" r="1.55" fill="#3351b3"/>
<circle cx="536.9" cy="968.5" r="1.55" fill="#3351b3"/>
<circle cx="536.9" cy="977.1" r="1.55" fill="#3351b3"/>
<circle cx="536.9" cy="981.4" r="1.55" fill="#3351b3"/>
<circle cx="586.6" cy="939.4" r="1.55" fill="#e91d2e"/>
<circle cx="586.6" cy="940.0" r="1.55" fill="#e91d2e"/>
<circle cx="586.6" cy="954.0" r="1.55" fill="#e91d2e"/>
<circle cx="586.6" cy="959.2" r="1.55" fill="#e91d2e"/>
<circle cx="586.6" cy="960.1" r="1.55" fill="#e91d2e"/>
<circle cx="586.6" cy="972.2" r="1.55" fill="#e91d2e"/>
<circle cx="533.9" cy="1001.2" r="1.6" fill="#3351b3"/>
<circle cx="535.8" cy="1001.3" r="1.6" fill="#3351b3"/>
<circle cx="538.6" cy="1001.0" r="1.6" fill="#3351b3"/>
<circle cx="527.9" cy="1003.3" r="1.6" fill="#3351b3"/>
<circle cx="530.2" cy="1003.0" r="1.6" fill="#3351b3"/>
<circle cx="532.6" cy="1003.0" r="1.6" fill="#3351b3"/>
<circle cx="534.8" cy="1003.2" r="1.6" fill="#3351b3"/>
<circle cx="537.2" cy="1003.5" r="1.6" fill="#3351b3"/>
<circle cx="538.9" cy="1003.2" r="1.6" fill="#3351b3"/>
<circle cx="541.5" cy="1003.4" r="1.6" fill="#3351b3"/>
<circle cx="543.7" cy="1003.2" r="1.6" fill="#3351b3"/>
<circle cx="545.8" cy="1003.1" r="1.6" fill="#3351b3"/>
<circle cx="523.8" cy="1005.2" r="1.6" fill="#3351b3"/>
<circle cx="526.3" cy="1005.3" r="1.6" fill="#3351b3"/>
<circle cx="528.4" cy="1004.9" r="1.6" fill="#3351b3"/>
<circle cx="530.7" cy="1005.2" r="1.6" fill="#3351b3"/>
<circle cx="532.7" cy="1005.1" r="1.6" fill="#3351b3"/>
<circle cx="534.8" cy="1005.1" r="1.6" fill="#3351b3"/>
<circle cx="537.1" cy="1004.8" r="1.6" fill="#3351b3"/>
<circle cx="539.2" cy="1004.9" r="1.6" fill="#3351b3"/>
<circle cx="541.8" cy="1005.0" r="1.6" fill="#3351b3"/>
<circle cx="543.6" cy="1004.9" r="1.6" fill="#3351b3"/>
<circle cx="545.8" cy="1004.9" r="1.6" fill="#3351b3"/>
<circle cx="547.9" cy="1004.7" r="1.6" fill="#3351b3"/>
<circle cx="523.7" cy="1006.9" r="1.6" fill="#3351b3"/>
<circle cx="525.6" cy="1007.0" r="1.6" fill="#3351b3"/>
<circle cx="527.7" cy="1006.7" r="1.6" fill="#3351b3"/>
<circle cx="529.8" cy="1006.8" r="1.6" fill="#3351b3"/>
<circle cx="532.1" cy="1007.0" r="1.6" fill="#3351b3"/>
<circle cx="534.5" cy="1007.2" r="1.6" fill="#3351b3"/>
<circle cx="536.6" cy="1007.2" r="1.6" fill="#3351b3"/>
<circle cx="538.9" cy="1006.7" r="1.6" fill="#3351b3"/>
<circle cx="540.9" cy="1007.0" r="1.6" fill="#3351b3"/>
<circle cx="543.5" cy="1006.8" r="1.6" fill="#3351b3"/>
<circle cx="545.6" cy="1006.9" r="1.6" fill="#3351b3"/>
<circle cx="547.9" cy="1006.7" r="1.6" fill="#3351b3"/>
<circle cx="549.8" cy="1007.1" r="1.6" fill="#3351b3"/>
<circle cx="523.6" cy="1008.6" r="1.6" fill="#3351b3"/>
<circle cx="525.6" cy="1008.6" r="1.6" fill="#3351b3"/>
<circle cx="528.0" cy="1008.9" r="1.6" fill="#3351b3"/>
<circle cx="530.1" cy="1008.7" r="1.6" fill="#3351b3"/>
<circle cx="532.3" cy="1008.8" r="1.6" fill="#3351b3"/>
<circle cx="534.9" cy="1008.9" r="1.6" fill="#3351b3"/>
<circle cx="536.7" cy="1008.9" r="1.6" fill="#3351b3"/>
<circle cx="539.4" cy="1008.8" r="1.6" fill="#3351b3"/>
<circle cx="541.0" cy="1009.0" r="1.6" fill="#3351b3"/>
<circle cx="543.7" cy="1008.7" r="1.6" fill="#3351b3"/>
<circle cx="545.5" cy="1008.6" r="1.6" fill="#3351b3"/>
<circle cx="547.9" cy="1009.0" r="1.6" fill="#3351b3"/>
<circle cx="550.2" cy="1009.0" r="1.6" fill="#3351b3"/>
<circle cx="525.6" cy="1010.5" r="1.6" fill="#3351b3"/>
<circle cx="528.1" cy="1010.7" r="1.6" fill="#3351b3"/>
<circle cx="530.1" cy="1010.8" r="1.6" fill="#3351b3"/>
<circle cx="532.3" cy="1010.4" r="1.6" fill="#3351b3"/>
<circle cx="534.5" cy="1010.4" r="1.6" fill="#3351b3"/>
<circle cx="536.9" cy="1010.6" r="1.6" fill="#3351b3"/>
<circle cx="539.0" cy="1010.7" r="1.6" fill="#3351b3"/>
<circle cx="541.0" cy="1010.6" r="1.6" fill="#3351b3"/>
<circle cx="543.1" cy="1010.9" r="1.6" fill="#3351b3"/>
<circle cx="545.6" cy="1010.9" r="1.6" fill="#3351b3"/>
<circle cx="547.5" cy="1010.7" r="1.6" fill="#3351b3"/>
<circle cx="525.6" cy="1012.4" r="1.6" fill="#3351b3"/>
<circle cx="527.4" cy="1012.3" r="1.6" fill="#3351b3"/>
<circle cx="529.6" cy="1012.7" r="1.6" fill="#3351b3"/>
<circle cx="531.8" cy="1012.7" r="1.6" fill="#3351b3"/>
<circle cx="534.2" cy="1012.5" r="1.6" fill="#3351b3"/>
<circle cx="536.5" cy="1012.6" r="1.6" fill="#3351b3"/>
<circle cx="538.7" cy="1012.6" r="1.6" fill="#3351b3"/>
<circle cx="540.7" cy="1012.7" r="1.6" fill="#3351b3"/>
<circle cx="542.9" cy="1012.6" r="1.6" fill="#3351b3"/>
<circle cx="545.4" cy="1012.7" r="1.6" fill="#3351b3"/>
<circle cx="547.3" cy="1012.7" r="1.6" fill="#3351b3"/>
<circle cx="527.0" cy="1014.4" r="1.6" fill="#3351b3"/>
<circle cx="528.8" cy="1014.4" r="1.6" fill="#3351b3"/>
<circle cx="531.4" cy="1014.2" r="1.6" fill="#3351b3"/>
<circle cx="533.1" cy="1014.4" r="1.6" fill="#3351b3"/>
<circle cx="535.7" cy="1014.6" r="1.6" fill="#3351b3"/>
<circle cx="537.7" cy="1014.7" r="1.6" fill="#3351b3"/>
<circle cx="539.8" cy="1014.5" r="1.6" fill="#3351b3"/>
<circle cx="541.9" cy="1014.1" r="1.6" fill="#3351b3"/>
<circle cx="544.1" cy="1014.1" r="1.6" fill="#3351b3"/>
<circle cx="546.6" cy="1014.4" r="1.6" fill="#3351b3"/>
<circle cx="525.7" cy="1016.5" r="1.6" fill="#3351b3"/>
<circle cx="528.0" cy="1016.0" r="1.6" fill="#3351b3"/>
<circle cx="530.1" cy="1016.4" r="1.6" fill="#3351b3"/>
<circle cx="532.8" cy="1016.1" r="1.6" fill="#3351b3"/>
<circle cx="534.4" cy="1016.4" r="1.6" fill="#3351b3"/>
<circle cx="536.7" cy="1016.5" r="1.6" fill="#3351b3"/>
<circle cx="539.1" cy="1016.3" r="1.6" fill="#3351b3"/>
<circle cx="541.2" cy="1016.4" r="1.6" fill="#3351b3"/>
<circle cx="543.5" cy="1016.2" r="1.6" fill="#3351b3"/>
<circle cx="545.9" cy="1016.0" r="1.6" fill="#3351b3"/>
<circle cx="548.0" cy="1016.0" r="1.6" fill="#3351b3"/>
<circle cx="527.4" cy="1018.1" r="1.6" fill="#3351b3"/>
<circle cx="529.7" cy="1017.9" r="1.6" fill="#3351b3"/>
<circle cx="531.7" cy="1018.1" r="1.6" fill="#3351b3"/>
<circle cx="534.2" cy="1018.4" r="1.6" fill="#3351b3"/>
<circle cx="536.2" cy="1018.0" r="1.6" fill="#3351b3"/>
<circle cx="538.2" cy="1018.0" r="1.6" fill="#3351b3"/>
<circle cx="540.5" cy="1018.0" r="1.6" fill="#3351b3"/>
<circle cx="542.5" cy="1018.3" r="1.6" fill="#3351b3"/>
<circle cx="545.0" cy="1018.0" r="1.6" fill="#3351b3"/>
<circle cx="547.4" cy="1018.0" r="1.6" fill="#3351b3"/>
<circle cx="571.8" cy="1012.6" r="1.6" fill="#e91d2e"/>
<circle cx="574.2" cy="1013.0" r="1.6" fill="#e91d2e"/>
<circle cx="576.0" cy="1013.0" r="1.6" fill="#e91d2e"/>
<circle cx="578.6" cy="1012.7" r="1.6" fill="#e91d2e"/>
<circle cx="580.5" cy="1012.8" r="1.6" fill="#e91d2e"/>
<circle cx="583.0" cy="1012.6" r="1.6" fill="#e91d2e"/>
<circle cx="585.1" cy="1012.9" r="1.6" fill="#e91d2e"/>
<circle cx="587.1" cy="1012.8" r="1.6" fill="#e91d2e"/>
<circle cx="589.6" cy="1012.6" r="1.6" fill="#e91d2e"/>
<circle cx="591.8" cy="1012.7" r="1.6" fill="#e91d2e"/>
<circle cx="593.9" cy="1013.0" r="1.6" fill="#e91d2e"/>
<circle cx="595.8" cy="1013.0" r="1.6" fill="#e91d2e"/>
<circle cx="598.5" cy="1012.7" r="1.6" fill="#e91d2e"/>
<circle cx="600.1" cy="1012.6" r="1.6" fill="#e91d2e"/>
<circle cx="573.1" cy="1014.4" r="1.6" fill="#e91d2e"/>
<circle cx="575.3" cy="1014.5" r="1.6" fill="#e91d2e"/>
<circle cx="577.4" cy="1014.4" r="1.6" fill="#e91d2e"/>
<circle cx="579.3" cy="1014.8" r="1.6" fill="#e91d2e"/>
<circle cx="581.4" cy="1014.6" r="1.6" fill="#e91d2e"/>
<circle cx="584.1" cy="1014.8" r="1.6" fill="#e91d2e"/>
<circle cx="586.3" cy="1015.0" r="1.6" fill="#e91d2e"/>
<circle cx="588.0" cy="1014.5" r="1.6" fill="#e91d2e"/>
<circle cx="590.6" cy="1014.8" r="1.6" fill="#e91d2e"/>
<circle cx="592.4" cy="1014.7" r="1.6" fill="#e91d2e"/>
<circle cx="594.7" cy="1014.6" r="1.6" fill="#e91d2e"/>
<circle cx="596.8" cy="1014.4" r="1.6" fill="#e91d2e"/>
<circle cx="599.6" cy="1014.6" r="1.6" fill="#e91d2e"/>
<circle cx="572.0" cy="1016.3" r="1.6" fill="#e91d2e"/>
<circle cx="574.0" cy="1016.3" r="1.6" fill="#e91d2e"/>
<circle cx="576.1" cy="1016.3" r="1.6" fill="#e91d2e"/>
<circle cx="578.5" cy="1016.3" r="1.6" fill="#e91d2e"/>
<circle cx="580.7" cy="1016.5" r="1.6" fill="#e91d2e"/>
<circle cx="582.5" cy="1016.5" r="1.6" fill="#e91d2e"/>
<circle cx="585.0" cy="1016.8" r="1.6" fill="#e91d2e"/>
<circle cx="587.1" cy="1016.4" r="1.6" fill="#e91d2e"/>
<circle cx="589.6" cy="1016.8" r="1.6" fill="#e91d2e"/>
<circle cx="591.7" cy="1016.4" r="1.6" fill="#e91d2e"/>
<circle cx="593.6" cy="1016.4" r="1.6" fill="#e91d2e"/>
<circle cx="595.7" cy="1016.3" r="1.6" fill="#e91d2e"/>
<circle cx="598.2" cy="1016.5" r="1.6" fill="#e91d2e"/>
<circle cx="600.4" cy="1016.5" r="1.6" fill="#e91d2e"/>
<circle cx="572.6" cy="1018.5" r="1.6" fill="#e91d2e"/>
<circle cx="575.2" cy="1018.4" r="1.6" fill="#e91d2e"/>
<circle cx="577.3" cy="1018.5" r="1.6" fill="#e91d2e"/>
<circle cx="579.7" cy="1018.6" r="1.6" fill="#e91d2e"/>
<circle cx="581.8" cy="1018.3" r="1.6" fill="#e91d2e"/>
<circle cx="583.8" cy="1018.4" r="1.6" fill="#e91d2e"/>
<circle cx="586.3" cy="1018.3" r="1.6" fill="#e91d2e"/>
<circle cx="588.2" cy="1018.4" r="1.6" fill="#e91d2e"/>
<circle cx="590.2" cy="1018.7" r="1.6" fill="#e91d2e"/>
<circle cx="592.4" cy="1018.5" r="1.6" fill="#e91d2e"/>
<circle cx="595.1" cy="1018.3" r="1.6" fill="#e91d2e"/>
<circle cx="597.1" cy="1018.3" r="1.6" fill="#e91d2e"/>
<circle cx="599.1" cy="1018.2" r="1.6" fill="#e91d2e"/>
<line x1="586.60" y1="981.30" x2="586.60" y2="1012.00" stroke="#e91d2e" stroke-width="2.6" stroke-linecap="round"/>
<line x1="537.20" y1="992.70" x2="537.20" y2="1002.00" stroke="#3351b3" stroke-width="2.6" stroke-linecap="round"/>
</svg>
</body></html>
